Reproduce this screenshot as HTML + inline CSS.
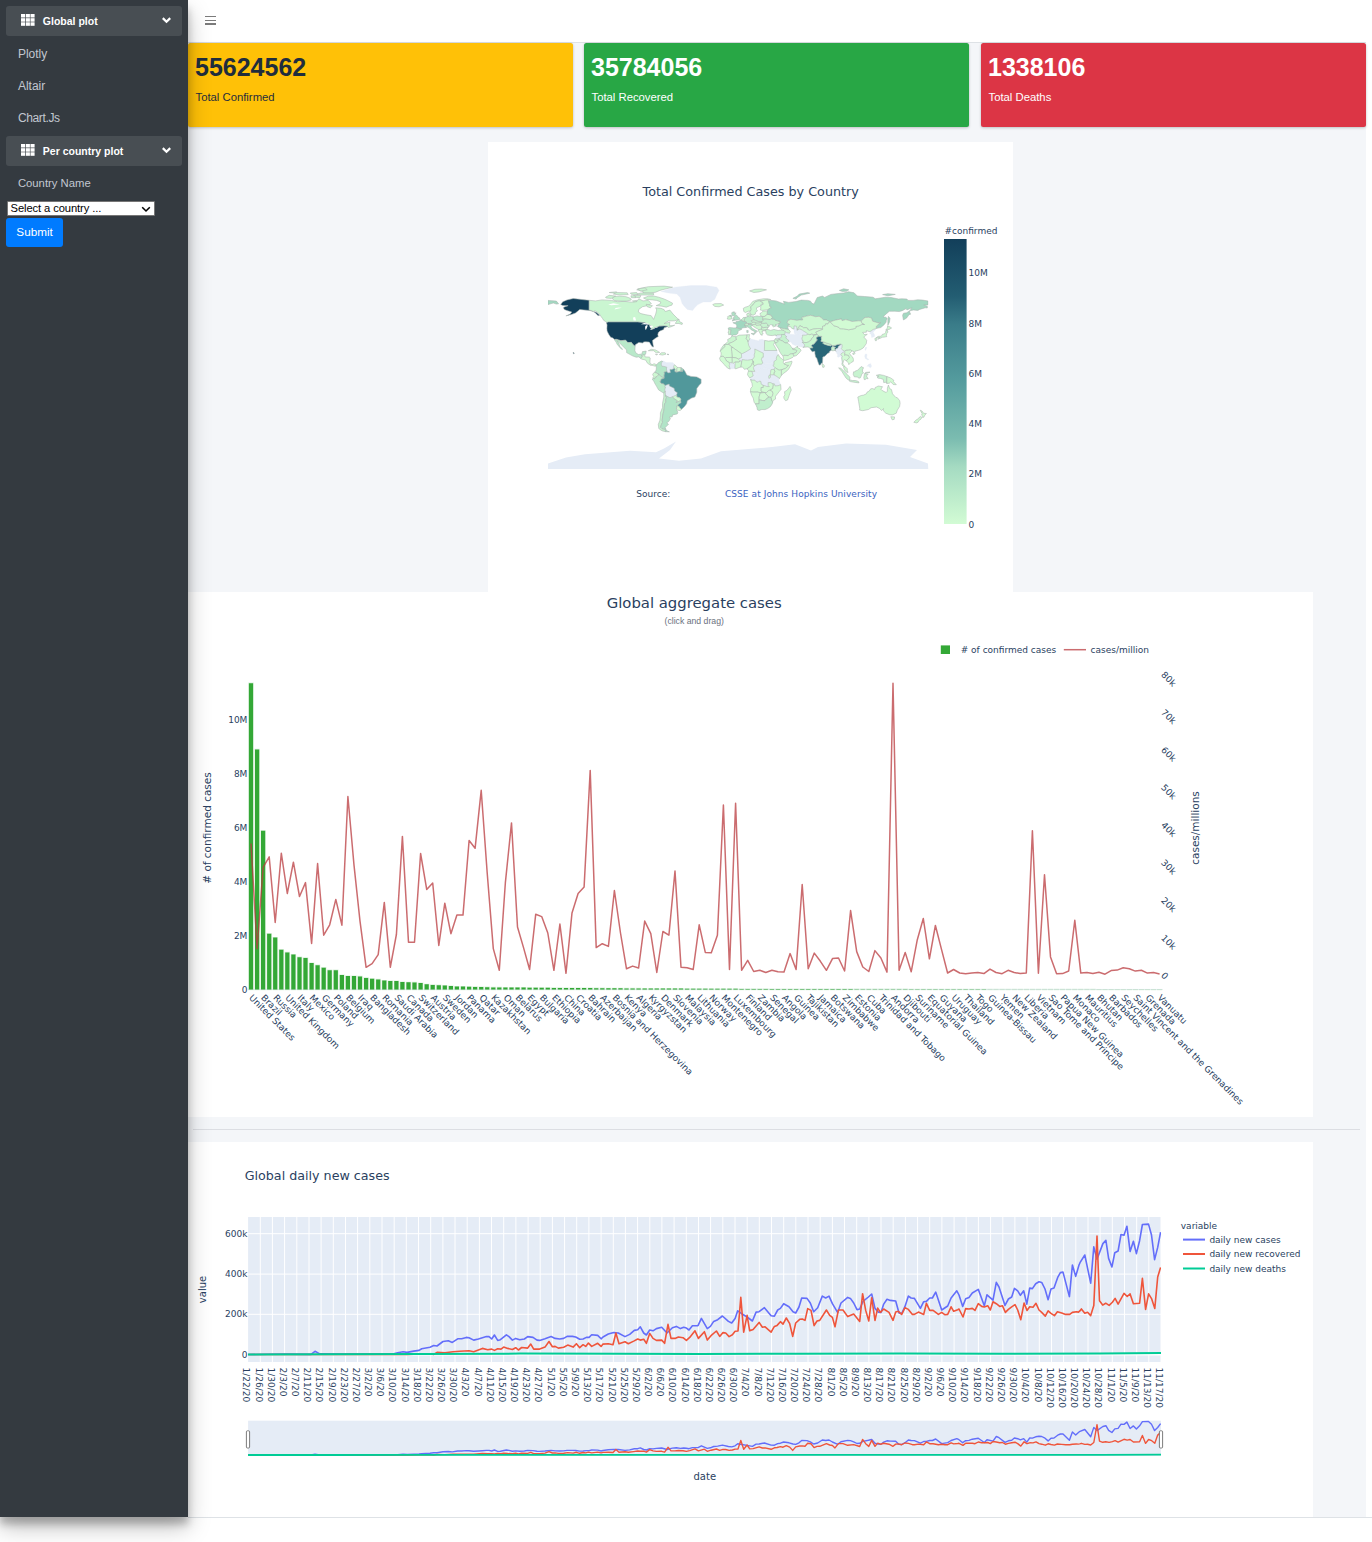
<!DOCTYPE html><html><head><meta charset="utf-8"><title>COVID-19 Dashboard</title><style>

*{box-sizing:border-box;margin:0;padding:0}
html,body{width:1372px;height:1542px;overflow:hidden;background:#fff}
body{position:relative;font-family:"Liberation Sans", Arial, sans-serif}
.abs{position:absolute}
#content{left:188px;top:0;width:1178px;height:1517px;background:#f4f6f9}
#nav{left:188px;top:0;width:1178px;height:43px;background:#fff;border-bottom:1px solid #dee2e6}
.hb{position:absolute;left:17.2px;width:10.7px;height:1.5px;background:#7b7b7b}
.ib{position:absolute;top:43px;height:84px;border-radius:2.5px;box-shadow:0 0 1px rgba(0,0,0,.125),0 1px 3px rgba(0,0,0,.2)}
.ib .n{position:absolute;left:7px;top:9.3px;font-weight:700;font-size:25px;line-height:30px}
.ib .l{position:absolute;left:7.5px;top:47px;font-size:11.3px;line-height:14px}
.card{position:absolute;background:#fff}
#sb{left:0;top:0;width:188px;height:1517px;background:#343a40;z-index:5;box-shadow:0 10.5px 21px rgba(0,0,0,.25),0 7.5px 7.5px rgba(0,0,0,.22)}
.nh{position:absolute;left:6px;width:176px;height:30px;background:rgba(255,255,255,.1);border-radius:3px}
.nh .t{position:absolute;left:36.8px;top:8.5px;font-size:10.5px;font-weight:700;color:#fff;line-height:12px}
.nh svg{position:absolute;left:0;top:0}
.si{position:absolute;left:17.9px;font-size:12px;color:#c2c7d0;line-height:14px}
#svg{position:absolute;left:0;top:0;z-index:2}

</style></head><body>
<div id="content" class="abs"></div>
<div id="nav" class="abs"><div class="hb" style="top:15.8px"></div><div class="hb" style="top:19.6px"></div><div class="hb" style="top:23.4px"></div></div>
<div class="ib" style="left:188px;width:385px;background:#ffc107;color:#1f2d3d"><div class="n">55624562</div><div class="l">Total Confirmed</div></div>
<div class="ib" style="left:584px;width:385px;background:#28a745;color:#fff"><div class="n">35784056</div><div class="l">Total Recovered</div></div>
<div class="ib" style="left:981px;width:385px;background:#dc3545;color:#fff"><div class="n">1338106</div><div class="l">Total Deaths</div></div>
<div class="card" style="left:488px;top:142px;width:525px;height:450px"></div>
<div class="card" style="left:188px;top:592px;width:1125px;height:525px"></div>
<div class="abs" style="left:193px;top:1129px;width:1167px;height:1px;background:#dcdee3"></div>
<div class="card" style="left:188px;top:1142px;width:1125px;height:375px"></div>
<div class="abs" style="left:188px;top:1517px;width:1184px;height:1px;background:#dee2e6"></div>
<svg id="svg" width="1372" height="1542" font-family='"DejaVu Sans", "Liberation Sans", sans-serif'>
<clipPath id="mclip"><rect x="548" y="284" width="380.5" height="185"/></clipPath>
<g clip-path="url(#mclip)" stroke="#aab4b0" stroke-width="0.55" stroke-linejoin="round">
<path d="M661.5,361.1 L663.1,360.8 L666.2,362.6 L670.4,362.5 L673.1,362.7 L674.5,364.7 L673.6,366.4 L673.9,368.3 L671.7,369.5 L669.9,369.4 L670.4,372.5 L668,372.9 L667,371.6 L666.4,369 L666.8,367.2 L664.1,366.4 L662,366.4 L661.2,364.1 L661.5,362.7 L662.7,361.6Z" fill="#e5ecf6" stroke="#e5ecf6" stroke-width="0.3"/>
<path d="M664.7,386.9 L665.2,385.4 L669.1,384.1 L669.4,385.9 L671.5,386.9 L674.1,388.3 L674.7,391 L677.3,392.7 L676.6,394.9 L672.2,396.9 L670,397.7 L668,396.8 L666.4,397.8 L665.5,395.3 L665.2,391.2 L664.7,389.9 L665.5,387Z" fill="#e5ecf6" stroke="#e5ecf6" stroke-width="0.3"/>
<path d="M660.9,291.4 L668.3,289.3 L674.7,287.2 L690.5,285.6 L706.3,285.6 L716.9,287.2 L719,290.4 L716.9,294.6 L714.8,299.3 L710.6,302 L703.2,302 L697.9,304.6 L694.7,307.8 L692.6,310.4 L687.3,309.4 L684.2,306.2 L682.1,303.6 L681,299.9 L680,297.2 L676.8,294.1 L668.3,293Z" fill="#e5ecf6" stroke="#e5ecf6" stroke-width="0.3"/>
<path d="M794,329.1 L794,332.1 L794.9,334.4 L796.1,333.8 L801.3,334.2 L802.4,335.2 L805.6,335.2 L808.2,334.3 L806.1,332.6 L803.5,331 L802.4,330.2 L799.8,328.9 L797.1,330.2 L796.6,326.2 L794,325.9Z" fill="#e5ecf6" stroke="#e5ecf6" stroke-width="0.3"/>
<path d="M785.3,331.8 L786.6,332.7 L789.6,333.2 L789.7,334.2 L794.9,334.4 L796.1,333.8 L801.3,334.2 L802.4,335.2 L802.6,336.5 L801.9,338.2 L802.3,340.5 L803.1,340.6 L803.2,341.2 L802.3,342.3 L804.8,345 L804,347.1 L802.9,347.3 L798.5,346.6 L797.5,345.1 L795.7,345.8 L792.4,344.3 L790.9,342 L789.3,342.2 L788.7,341.6 L788.7,341 L788.4,340 L786.7,338.9 L785.9,337.9 L786,336.8 L786.8,336.7 L785.5,335.7 L784.7,334.5 L784.7,333.6Z" fill="#e5ecf6" stroke="#e5ecf6" stroke-width="0.3"/>
<path d="M775.8,334.9 L776,336 L775.9,336.8 L776.6,337.6 L776,338.6 L775.8,339.2 L779,338.5 L781.3,337.4 L781.5,334.6 L782.7,334.5 L780.2,334.8 L776.9,334.9Z" fill="#e5ecf6" stroke="#e5ecf6" stroke-width="0.3"/>
<path d="M750,338.8 L754.1,339.7 L759.1,341.1 L759.1,339.8 L762.3,339.3 L764.6,340.4 L764.4,350.5 L764.4,352.6 L763.3,352.6 L763.3,353.2 L754.8,349 L752.9,350 L750.1,348 L748.6,345.2 L748,341.8 L748.9,340.2Z" fill="#e5ecf6" stroke="#e5ecf6" stroke-width="0.3"/>
<path d="M764.4,350.5 L777,350.5 L777.6,354.1 L778.5,354.7 L777.1,355.6 L776.3,358.1 L776.5,359.7 L773.9,361.6 L772.8,362.5 L772.5,360.9 L771,363.4 L766.5,363.6 L763.9,364.2 L762.8,363.1 L761.4,359.2 L762.3,357.2 L763.3,357.2 L763.3,353.2 L763.3,352.6 L764.4,352.6Z" fill="#e5ecf6" stroke="#e5ecf6" stroke-width="0.3"/>
<path d="M763.9,364.2 L766.5,363.6 L771,363.4 L772.5,360.9 L772.8,362.5 L773.9,361.6 L774,364.7 L772.8,365.5 L775.3,367.9 L773.9,369.2 L770.9,369.7 L768,369.2 L766.8,368.3 L763.9,365Z" fill="#e5ecf6" stroke="#e5ecf6" stroke-width="0.3"/>
<path d="M742.5,353.5 L745.9,351.8 L750.7,348.9 L752.9,350 L754.8,349 L754.9,352.2 L754.2,354.9 L754.4,356.9 L752.8,359 L752.3,359.5 L750.7,359.7 L747.5,360.2 L745.4,360 L742.2,359.5 L741.8,361.4 L740.1,360.9 L738.4,359 L741.7,357.5 L741.4,353.7Z" fill="#e5ecf6" stroke="#e5ecf6" stroke-width="0.3"/>
<path d="M729.2,365.6 L729.7,364.8 L729.2,362.6 L732.3,362.8 L733,363.5 L735.1,363.6 L734.9,368.5 L730.1,369.1Z" fill="#e5ecf6" stroke="#e5ecf6" stroke-width="0.3"/>
<path d="M754.4,365.9 L753.4,367.5 L753.8,369.5 L754.9,371.4 L757.5,370.1 L758.6,368.4 L761.7,369.5 L763.3,368.6 L766.8,368.3 L763.9,365 L763.9,364.2 L762.8,363.1 L761.2,364.2 L757.9,364.2Z" fill="#e5ecf6" stroke="#e5ecf6" stroke-width="0.3"/>
<path d="M752,371.4 L754.9,371.4 L757.5,370.1 L756.5,374.8 L755.3,375.6 L752.8,378.5 L750.7,379 L749.7,377.9 L753.2,375.9Z" fill="#e5ecf6" stroke="#e5ecf6" stroke-width="0.3"/>
<path d="M757.5,370.1 L758.6,368.4 L761.7,369.5 L763.3,368.6 L766.8,368.3 L768,369.2 L770.9,369.7 L770.5,372.7 L769.3,375.1 L768.6,376.7 L768.9,380.1 L770.4,382.5 L768.1,382.7 L768.2,385.4 L769.3,386.6 L766.9,386.5 L765.2,385.8 L763.3,385.4 L763.2,385.1 L761.2,384.2 L760.9,381.5 L759.2,381.1 L758.1,382.2 L756,381.7 L754.9,380.1 L751.2,380.1 L750.7,379 L752.8,378.5 L755.3,375.6 L756.5,374.8Z" fill="#e5ecf6" stroke="#e5ecf6" stroke-width="0.3"/>
<path d="M770.1,374.8 L773.9,374.8 L777.8,377 L779.4,378.7 L779,380.6 L779.7,382.2 L780.7,384.6 L778.1,385.7 L775,385.9 L774.4,383.8 L772.8,383.7 L770.4,382.5 L768.9,380.1 L768.9,378.5 L770.5,377.3 L770.2,374.9Z" fill="#e5ecf6" stroke="#e5ecf6" stroke-width="0.3"/>
<path d="M835.8,351.3 L835.2,350.5 L835.5,349 L836.5,348.6 L837.9,347.9 L838.3,346.3 L840.4,345.1 L840.7,344 L842.2,344.7 L842,347.4 L841.1,348.5 L843,350.4 L844.8,351.2 L843.6,352.2 L842,353 L840.8,354.3 L842.4,356.6 L841.7,357.8 L842.5,362.1 L842,363.2 L841.5,359.5 L840.6,355.9 L838.7,357.2 L837.4,356.9 L837.6,354.5 L836.7,353.3 L836.3,352.6Z" fill="#e5ecf6" stroke="#e5ecf6" stroke-width="0.3"/>
<path d="M869.2,331.6 L871,331.1 L873.1,329.4 L874.8,329 L875.9,329 L874.9,330.5 L873.1,332.1 L872.6,331.7 L873.5,333 L871.2,334 L870.2,334 L869.6,333.5 L870.3,332.1Z" fill="#e5ecf6" stroke="#e5ecf6" stroke-width="0.3"/>
<path d="M871.2,334 L873.5,333 L874.6,334.9 L874.6,336.4 L872.5,337.3 L871.4,337.4 L871.5,336.1 L871.1,335Z" fill="#e5ecf6" stroke="#e5ecf6" stroke-width="0.3"/>
<path d="M864.8,349.5 L865.7,347.1 L866.8,347.4 L865.6,350.5Z" fill="#e5ecf6" stroke="#e5ecf6" stroke-width="0.3"/>
<path d="M865.1,354.2 L867.1,354.2 L866.8,355.8 L866.6,358.1 L868.9,359.5 L868,360 L866.1,359.1 L865.3,358.4 L864.7,356.3Z" fill="#e5ecf6" stroke="#e5ecf6" stroke-width="0.3"/>
<path d="M866.8,366.4 L868.4,364.6 L870.5,363.4 L871.6,366 L870.7,367.8 L869.1,367.1 L868.3,365.9Z" fill="#e5ecf6" stroke="#e5ecf6" stroke-width="0.3"/>
<path d="M560.7,304.5 L562.8,301.7 L567,299.9 L573.3,298.5 L581.8,299.5 L589.2,300.3 L589.2,310.1 L591.3,310.6 L593.4,311.5 L595.5,313.1 L598.1,315.7 L599.7,315.2 L596.6,312.5 L590.2,310.6 L583.9,309.9 L579.7,309.4 L577.6,311.3 L575.4,313.1 L571.2,314.6 L565.9,315.9 L570.2,314.1 L571.8,312 L567,310.6 L564.4,309.6 L563.3,307.8 L564.9,306.7 L568.1,305.7 L562.8,305.6Z" fill="#123f5a"/>
<path d="M589.2,300.3 L595.5,300.9 L601.8,299.9 L611.3,300.4 L617.7,301.7 L624,301.4 L632.4,302.2 L636.7,301.4 L638.8,298.8 L643,300.9 L648.3,300.4 L651.4,303.6 L647.2,305.7 L642.5,306.7 L638.8,309.4 L638.3,312 L640.9,313.6 L645.1,314.6 L651.2,315.7 L653.6,319.4 L654.6,316.7 L655.7,314.1 L656.7,309.9 L655.7,307.8 L660.9,308.3 L664.1,309.6 L665.2,311.5 L669.9,310.1 L673.1,314.1 L677.3,318.3 L678.9,319.4 L674.7,320.8 L668.3,321 L664.1,323.6 L669.9,322.2 L669.6,324.1 L669.4,325.7 L672.6,325.6 L674.7,325.2 L671,326.8 L668.3,327.5 L667.3,326.2 L664.1,325.9 L659.2,326.2 L657.5,327.1 L654.4,327.8 L654.6,328.6 L650.9,329.4 L651,328.4 L651.3,326 L648.8,324.7 L644.8,322.8 L637.7,322 L608.2,322 L607.6,322.8 L605.5,321.5 L603.4,320.1 L602.9,318.9 L600.8,316.2 L600,314.6 L597.1,312 L595,310.8 L593.4,311.5 L591.3,310.6 L589.2,310.1Z" fill="#caf6d1"/>
<path d="M653.6,296 L658.8,297.2 L664.1,299 L667.3,300.4 L672.6,303.2 L672,305.1 L669.4,305.9 L666.2,307.2 L662,306.2 L656.2,305.6 L659.9,304.1 L660.9,302 L656.7,300.4 L652.5,299.9 L646.2,299.4 L643.5,298 L648.3,296.2Z" fill="#caf6d1"/>
<path d="M613.4,296.5 L619.8,296.2 L626.1,296.7 L630.3,298.3 L631.4,299.9 L626.6,301.1 L621.9,301.1 L614.5,300.6 L612.4,298.8Z" fill="#caf6d1"/>
<path d="M605.5,297.2 L609.2,295.3 L615.6,296.1 L611.3,298.4 L606.1,298Z" fill="#caf6d1"/>
<path d="M643,293 L650.4,293 L655.7,292.2 L659.9,290.4 L664.1,289.3 L672.6,287.2 L664.1,286.1 L648.3,286.7 L640.9,288.2 L636.7,289.8 L643,291.4Z" fill="#caf6d1"/>
<path d="M640.9,293 L653.6,293.3 L653.6,295 L640.9,295 L636.7,294.1Z" fill="#caf6d1"/>
<path d="M615.6,292.5 L627.2,292.8 L628.2,294.6 L619.8,295 L613.4,294.1Z" fill="#caf6d1"/>
<path d="M633.5,295.6 L640.9,295.6 L639.8,297.7 L634.6,297.2Z" fill="#caf6d1"/>
<path d="M646.2,304.2 L652.5,305.7 L650.4,307.8 L647.2,306.7Z" fill="#caf6d1"/>
<path d="M637.7,288.8 L645.1,287.9 L647.2,289.8 L640.9,291.1Z" fill="#caf6d1"/>
<path d="M609.2,292.5 L616.6,291.8 L615.6,293.2Z" fill="#caf6d1"/>
<path d="M630.3,293 L636.7,292.5 L637.7,294.6 L631.4,294.3Z" fill="#caf6d1"/>
<path d="M632.4,300.9 L636.7,300.4 L636.7,301.7 L633.5,301.7Z" fill="#caf6d1"/>
<path d="M630.9,295.8 L635.1,295.8 L635.6,297.7 L631.4,297.7Z" fill="#caf6d1"/>
<path d="M675.4,323.5 L678.9,323.5 L682.1,324.5 L682.5,323.1 L679.4,321.5 L679.1,319.3 L677.3,320.3 L675.7,322.6Z" fill="#caf6d1"/>
<path d="M606.4,322.7 L608.2,322 L637.7,322 L644.8,322.8 L648.8,324.7 L651.3,326 L651,328.4 L650.9,329.4 L654.6,328.6 L654.4,327.8 L657.5,327.1 L659.2,326.2 L664.1,325.9 L667.3,326.2 L667.3,326.8 L664.1,327.8 L663.6,329.6 L659.9,331 L658.3,332.6 L657.8,334.7 L658.3,336.5 L655.7,338.1 L652.5,340.5 L653,344.2 L653.6,347 L652,346.5 L650.6,344.2 L649.3,342.1 L645.6,341.8 L643.5,341.9 L643,343.1 L638.8,342.4 L635.3,344.7 L635.1,346.3 L633,344.7 L631.4,342.4 L627.7,342.6 L625.6,340.2 L620.8,340.7 L616.8,339.4 L614.4,339.4 L612.9,337.9 L610.7,337.2 L608.7,334.2 L607.1,331 L606.9,328.4 L607.1,324.9Z" fill="#123f5a"/>
<path d="M573.3,352.1 L574.4,353.4 L573.5,353.8 L573.2,353Z" fill="#123f5a"/>
<path d="M614.4,339.4 L616.8,339.4 L620.8,340.7 L625.6,340.2 L627.7,342.6 L631.4,342.4 L633,344.7 L635.1,346.3 L634.9,350.5 L635.6,352.6 L638.3,354.5 L641.9,354 L642.5,351.6 L646.2,351.1 L645.6,354.2 L644.6,354.7 L641.5,355.5 L642.5,356.9 L640.7,358.4 L638.8,356.9 L636.1,357.2 L632.4,355.8 L626.6,352.6 L626.6,350 L622.4,345.8 L619.3,342.6 L616.8,340.5 L618.7,343.1 L619.8,346.3 L621.9,348.4 L622.4,349.5 L621.6,349.2 L619.8,347.4 L617.1,344.2 L616.1,342.1 L614.7,340.2Z" fill="#b9e9ca"/>
<path d="M640.7,358.4 L642.5,356.9 L641.5,355.5 L644.6,354.7 L645.1,356.9 L649.3,357.1 L650.2,357.9 L649.9,362.1 L650.4,364 L652.5,364.5 L654.1,363.7 L656.4,364.7 L655.8,366.1 L653.6,366 L653,365.3 L650.5,365.3 L647.5,363.2 L645.6,360 L641.9,359.2Z" fill="#d0f9d3"/>
<path d="M648.3,350.7 L651.4,349.3 L655.7,350 L659.7,352.4 L656.2,352.8 L653.6,350.7 L649.3,350.7Z" fill="#d2fbd4"/>
<path d="M659.5,354.3 L661.5,352.7 L665.2,352.8 L665.9,354.2 L662.5,355.1 L659.4,354.5Z" fill="#d0f9d3"/>
<path d="M655.4,354.3 L657.6,354.4 L656.9,355Z" fill="#d2fbd4"/>
<path d="M667.1,354.2 L668.8,354.4 L668.3,354.7Z" fill="#123f5a"/>
<path d="M656.4,364.7 L657.8,363.6 L658.3,362.7 L661.5,361.1 L662.7,361.6 L661.5,362.7 L661.2,364.1 L662,366.4 L664.1,366.4 L666.8,367.2 L666.4,369 L667,371.6 L664.1,372.2 L664.6,374 L664.1,374.8 L664.2,378.2 L660.9,376.4 L658.3,374 L656.2,372.9 L654.6,372.4 L656.2,370.1 L656.4,366.8 L655.8,366.1Z" fill="#b4e6c8"/>
<path d="M674.5,364.7 L677.6,367.4 L676.9,368.7 L676.8,372.2 L675,371.8 L674.7,370.6 L675.2,369.5 L673.9,368.3 L673.6,366.4Z" fill="#d2fbd4"/>
<path d="M677.6,367.4 L681,367.6 L681,369.9 L680,371.3 L678.4,371.7 L676.8,372.2 L676.9,368.7Z" fill="#d2fbd4"/>
<path d="M681,367.6 L683.5,369.3 L682.6,371.4 L681,371.4 L681,369.9Z" fill="#a0d7c0"/>
<path d="M654.6,372.4 L656.2,372.9 L658.3,374 L658.6,374.8 L657.1,376.5 L655.2,377.4 L654.6,379 L653.2,378.4 L653,377.3 L653.8,376.4 L652.6,374.8 L653.6,372.9Z" fill="#cef8d2"/>
<path d="M658.3,374 L660.9,376.4 L664.2,378.2 L661.1,379.3 L660.6,381.6 L659.9,381.6 L661.1,383.2 L663.5,383.8 L665.2,385.4 L664.7,386.9 L665.5,387 L664.7,389.9 L665.2,391.2 L663.8,393.1 L662.6,392.5 L658.6,389.9 L656.7,386.6 L655.2,384.1 L653.8,381.3 L652.2,379 L653.2,378.4 L654.6,379 L655.2,377.4 L657.1,376.5 L658.6,374.8Z" fill="#bcebcb"/>
<path d="M674.7,368.3 L673.9,368.3 L675.2,369.5 L674.7,370.6 L675,371.8 L676.8,372.2 L678.4,371.7 L680,371.3 L681,371.4 L682.6,371.4 L683.5,369.3 L685.2,371.8 L686.8,375 L691,376.4 L696.8,376.9 L701.1,379.3 L701.1,383.2 L699,385.4 L696.8,388.5 L696.8,392.2 L694.9,397 L691.6,398 L687.3,400.7 L686.6,403.8 L684.5,406.5 L681.6,409.3 L680,408.1 L678.9,406.3 L677.2,405.6 L678.6,404.1 L681,402.6 L680.4,400.8 L680.8,399.1 L679.3,397.6 L676.8,397 L676.6,394.9 L677.3,392.7 L674.7,391 L674.1,388.3 L671.5,386.9 L669.4,385.9 L669.1,384.1 L665.2,385.4 L663.5,383.8 L661.1,383.2 L659.9,381.6 L660.6,381.6 L661.1,379.3 L664.2,378.2 L664.1,374.8 L664.6,374 L664.1,372.2 L667,371.6 L668,372.9 L670.4,372.5 L669.9,369.4 L671.7,369.5Z" fill="#51989b"/>
<path d="M676.6,394.9 L676.8,397 L679.3,397.6 L680.8,399.1 L680.4,400.8 L676.1,402.6 L677.2,400.7 L674.7,399.1 L672.2,396.9Z" fill="#d0fad3"/>
<path d="M663.8,393.1 L665.2,391.2 L665.5,395.3 L666.4,397.8 L665.7,399.6 L665.9,402.2 L664.5,403.8 L664.1,408.6 L663.6,411.7 L662.8,414.9 L662.2,420.2 L662.5,422.3 L661.5,424.4 L660.6,427.1 L662,428.6 L665.2,429.2 L665.6,431.7 L662,430.8 L658.8,428.6 L658.3,424.4 L659.9,420.2 L660.4,416 L660.4,412.8 L662.5,407.5 L662.5,403.3 L663.8,397Z" fill="#c5f2cf"/>
<path d="M665.5,395.3 L668,396.8 L670,397.7 L672.2,396.9 L674.7,399.1 L677.2,400.7 L676.1,402.6 L680.4,400.8 L681,402.6 L678.6,404.1 L677.2,405.6 L676.4,409.1 L677.8,412.3 L677.3,413.9 L672.6,414.9 L672.2,416.8 L669.4,417 L670.4,418.6 L668.9,421.3 L666.8,422.8 L668.5,424.2 L665.2,427.6 L665.8,429 L665.2,429.2 L662,428.6 L660.6,427.1 L661.5,424.4 L662.5,422.3 L662.2,420.2 L662.8,414.9 L663.6,411.7 L664.1,408.6 L664.5,403.8 L665.9,402.2 L665.7,399.6 L666.4,397.8Z" fill="#b1e4c7"/>
<path d="M665.6,429.3 L665.6,431.7 L669.4,431.8 L667.8,431.3Z" fill="#b1e4c7"/>
<path d="M677.2,405.6 L678.9,406.3 L680,408.1 L681.6,409.3 L680.1,410.6 L677.8,410.2 L676.4,409.1Z" fill="#d2fbd4"/>
<path d="M712.7,304.6 L714.8,303.7 L721.1,303.6 L723.7,305.1 L719,306.8 L714.8,306.4Z" fill="#d2fbd4"/>
<path d="M743.3,308.3 L743.8,311.5 L745.4,312.5 L749.1,310.9 L750.1,311.5 L751.2,309.4 L750.7,306.7 L752.8,305.1 L754.9,302 L758.1,300.9 L764.4,300.4 L768.6,299.9 L770.7,299.5 L767.6,298.8 L763.3,298.8 L757,299.9 L752.8,301.4 L750.7,304.1 L748.6,306.2 L745.4,307.2Z" fill="#d1fad4"/>
<path d="M750.1,311.5 L749.6,312 L751.2,314.6 L753,315.3 L755.4,314.1 L755.4,312.5 L757.5,310.9 L756.5,309.4 L756.5,307.8 L760.2,306.2 L761.2,304.3 L763.3,304.2 L762.8,302.5 L759.6,300.9 L758.1,300.9 L754.9,302 L752.8,305.1 L750.7,306.7 L751.2,309.4Z" fill="#cdf8d2"/>
<path d="M760.2,309.9 L762.3,310.4 L765.5,310 L767.6,309.8 L771.3,307.5 L769.7,306.2 L769.7,304.6 L769.1,303 L768.6,300.9 L768.1,299.9 L765.5,300.1 L764.4,300.4 L760.2,300.9 L762.8,302.5 L763.3,304.2 L761.2,305.1 L760.7,306.7 L760.7,308.8Z" fill="#d2fbd4"/>
<path d="M732,321 L734.8,320.2 L739.5,319.7 L739.8,318.1 L738,317.3 L737.7,316.2 L735.9,314.8 L734.8,314.6 L736.1,312.9 L733.8,312.9 L734.8,311.9 L732.7,311.9 L731.5,313.1 L732.1,314.3 L731.7,314.8 L732.9,315.9 L734.4,315.8 L734.8,317.2 L733.2,317.5 L733.8,318.3 L732.4,319.1 L734.8,319.5 L733.3,319.8Z" fill="#afe2c6"/>
<path d="M732.1,316.1 L731.4,315.5 L730.3,315.4 L729.6,316.2 L731.5,316.6Z" fill="#afe2c6"/>
<path d="M731.7,318.9 L731.5,317.3 L731.5,316.6 L729.6,316.2 L730.3,315.4 L729,315.9 L727.5,316.7 L727.9,317.8 L727.1,318.9 L729,319.3Z" fill="#d0fad3"/>
<path d="M736.1,327.9 L741.3,329 L742.8,327.8 L745.9,327.5 L745.4,325.7 L745.2,324.8 L744.3,324.9 L745.9,323.5 L746.7,322 L744.9,321.5 L743.1,321 L740.6,319.8 L739.7,320.8 L738.2,321.3 L736.7,321.6 L736.1,321.3 L736.4,322.4 L733,322.6 L733.6,323.3 L735.7,323.9 L736.7,325 L736.7,326.8Z" fill="#a0d7c0"/>
<path d="M728.2,328.1 L729.6,327.6 L733.8,327.9 L736.1,327.9 L741.3,329 L741.4,329.5 L738.9,330.5 L737.7,332.1 L738.2,332.8 L737.3,334.1 L735.8,335 L733.4,335 L732.1,335.7 L731.3,334.9 L730.2,334.5 L730.1,333.6 L730.6,332.7 L730.1,331.9 L730.7,331.3 L730.7,329.8 L729.5,329.6 L728.6,329.4Z" fill="#ace0c5"/>
<path d="M728.6,329.4 L729.5,329.6 L730.7,329.8 L730.7,331.3 L730.1,331.9 L730.6,332.7 L730.1,333.6 L730.2,334.5 L728.6,334.7 L728.7,332.9 L728,332.8 L728.7,330.7Z" fill="#ccf7d2"/>
<path d="M745.9,327.5 L747.3,326.9 L748.8,327.4 L751.1,329.7 L754.5,331.5 L754.9,333.6 L754.6,333.1 L756.2,332.6 L756,331.1 L757.5,331.4 L754.8,329.8 L752.8,328.7 L751,326.8 L751,325.9 L752.6,325.6 L752.4,324.7 L750.7,324.1 L749,324.2 L747.5,325.2 L745.4,325.3 L745.4,325.9Z" fill="#b2e4c7"/>
<path d="M751.1,333.5 L754.5,333.3 L753.9,335Z" fill="#b2e4c7"/>
<path d="M746.7,330.5 L748.2,330.6 L748.1,332.6 L746.9,332.6Z" fill="#b2e4c7"/>
<path d="M744.3,320.1 L744.4,319 L745.4,317.3 L747,317.2 L747.4,315.8 L749.5,316.7 L751.7,316.3 L753,316.9 L753.5,318.9 L753.8,319.8 L751.2,320.7 L752.6,322.3 L751.7,323.6 L748.6,323.8 L746,323.5 L746.7,322 L744.9,321.5Z" fill="#bceccb"/>
<path d="M753,316.9 L757,315.9 L758.7,316.3 L762.8,316.5 L762.8,318.2 L763.3,320.3 L761.9,321.9 L758.1,321.6 L757.9,321.5 L755.3,320.3 L753.8,319.8 L753.5,318.9Z" fill="#bdeccc"/>
<path d="M740.6,319.8 L741.6,319.5 L742.5,318.6 L743.2,317.6 L745.4,317.3 L744.4,319 L744.3,320.1 L744.9,321.5 L743.1,321Z" fill="#c5f2cf"/>
<path d="M744.3,324.9 L745.2,324.8 L745.4,325.3 L747.5,325.2 L749,324.2 L748,323.5 L746,323.5Z" fill="#cbf6d1"/>
<path d="M748,323.5 L749,324.2 L750.7,324.1 L752.4,324.7 L755.4,324.3 L756.1,323.1 L755.8,322.4 L753.8,322 L752.6,322.3 L751.7,323.6 L748.6,323.8Z" fill="#ccf7d2"/>
<path d="M751.2,320.7 L753.8,319.8 L755.3,320.3 L757.9,321.5 L758.1,321.6 L761.9,321.9 L761.3,322.7 L757.9,323.3 L756.1,323.1 L755.8,322.4 L753.8,322 L752.6,322.3Z" fill="#c6f3cf"/>
<path d="M755.4,324.3 L756.1,323.1 L757.9,323.3 L761.3,322.7 L762.2,323.2 L760.2,325 L757.9,325.3 L756,325.3Z" fill="#cef8d2"/>
<path d="M752.4,325.6 L752.4,324.7 L755.4,324.3 L756,325.3 L757.9,325.3 L760.2,325 L762,326.7 L761.7,329.1 L759.8,329.5 L758.5,329.6 L757.5,328.9 L756,328.1 L754.1,327 L753.3,325.9Z" fill="#d0f9d3"/>
<path d="M758.5,329.6 L759.8,329.5 L761.7,329.1 L762.3,330 L765.8,329.7 L765.6,330.9 L763.3,330.7 L762.8,331.5 L761.9,331.2 L762.3,332.6 L763.3,333.4 L762,334.1 L762.3,335.2 L760.9,334.9 L760.3,333.8 L759.3,331.9 L758.4,330.8Z" fill="#d0fad3"/>
<path d="M762,326.7 L761.7,329.1 L762.3,330 L765.8,329.7 L767.6,329.4 L767.2,328.4 L768.2,327.6 L766.5,327.2 L763.3,327.6Z" fill="#d0f9d3"/>
<path d="M760.2,325 L762.2,323.2 L764.3,323.4 L766.1,322.9 L767.8,324.5 L767.8,325.8 L769.3,326 L768.2,327.6 L766.5,327.2 L763.3,327.6 L762,326.7Z" fill="#c8f4d0"/>
<path d="M760.2,314.6 L760.2,313.1 L761,313.2 L762.8,311.2 L767.6,311 L767.2,313.1 L767.8,314.4 L766.1,315 L765.2,316.4 L762.8,316.5 L760.5,315.5Z" fill="#d1fad4"/>
<path d="M762.8,316.5 L765.2,316.4 L766.1,315 L767.8,314.4 L770.7,314.8 L772.5,317.4 L771.3,318.8 L770.3,319.6 L764.9,319 L762.8,319.3 L762.8,318.2Z" fill="#cff9d3"/>
<path d="M763.3,320.3 L762.8,319.3 L764.9,319 L770.3,319.6 L771.3,318.8 L774.3,319.1 L775.4,320.3 L778.3,321 L780.2,321.4 L780.3,322.8 L778.4,323.9 L775,324.9 L776.6,325.8 L773.4,326.8 L772.3,325.8 L773.4,325.2 L770.7,324.6 L769.7,325.4 L767.8,325.8 L767.8,324.5 L766.1,322.9 L764.3,323.4 L762.2,323.2 L761.3,322.7 L761.9,321.9Z" fill="#c4f1ce"/>
<path d="M746.6,315.2 L747.1,313.5 L749.2,312.8 L749.1,314.1 L751.3,314.6 L751,315.7 L748.6,315.8 L747.4,315.8Z" fill="#d0fad3"/>
<path d="M765.6,330.9 L765.8,329.7 L767.6,329.4 L770.7,330.4 L773.9,329.4 L778.1,330.5 L781.8,329.9 L783.9,330.4 L785.3,331.8 L784.7,334.5 L782.7,334.5 L780.2,334.8 L776.9,334.9 L776,336 L775.8,334.9 L772.3,335.6 L770.2,335.4 L767.6,335 L765.8,333.3 L766,332.1Z" fill="#c7f4d0"/>
<path d="M767.6,311 L767.2,313.1 L767.8,314.4 L770.7,314.8 L772.5,317.4 L771.3,318.8 L774.3,319.1 L775.4,320.3 L778.3,321 L780.2,321.4 L780.3,322.8 L778.4,323.9 L779.7,324.1 L778.1,325 L777.6,326.6 L780.2,327.9 L784.5,328.8 L788.7,329.6 L788.1,328.4 L787.6,326.2 L789.2,324.7 L789.8,324.8 L787.1,322.7 L787.9,320.5 L790.8,319.3 L794,319.7 L796.8,320.4 L799.8,319.9 L802.4,320.1 L802.9,318.9 L801.3,318.3 L802.4,317.3 L806.6,316.1 L810.8,315.3 L815.5,316.7 L819.2,316.3 L821.4,317.8 L823.5,319.9 L826.2,319.9 L830.2,321.8 L835.1,320.2 L841.5,318.9 L842,320.7 L845.7,319.6 L849.9,320.7 L852,321.5 L858.8,320.8 L861.2,321.1 L864.2,318.2 L865.4,317.5 L868.5,317.3 L871.5,318 L872.6,321.2 L875.8,322.2 L878.4,322.9 L880.5,322.6 L876.3,326.2 L876.3,328.5 L878,328.1 L880.8,327.5 L883.9,324.9 L886.1,322.2 L886.3,320.2 L887.3,318.6 L885.8,317.3 L883.2,316.9 L884.2,315.7 L886.8,313.4 L889.3,311.3 L894.8,311.2 L899.3,311.6 L902.2,310.7 L906.2,308.6 L906.9,309.9 L910.8,308.3 L911.9,307.8 L910.1,310.4 L906.7,312.8 L903.5,313.2 L902.6,315.2 L903.4,319.9 L905.1,319 L906.9,317.7 L909.1,314.5 L910.4,314.4 L910.2,312.8 L909,312.3 L910.7,310.5 L913.6,310 L917.8,310.4 L919.7,309.4 L925.3,307.8 L927.3,308 L927.3,306.2 L923.8,305.1 L928,304.9 L928,301 L922.7,300.1 L917.5,299.8 L913.2,300.4 L908,300.4 L906.9,299 L901.6,298.8 L898.5,299 L891.1,297.5 L885.8,297.2 L875.2,298.8 L873.1,297.2 L864.7,296.5 L857.3,296 L854.1,292.8 L848.8,291.8 L843.6,293 L838.3,293.5 L830.9,294.4 L824.6,297.4 L822.5,296.1 L817.2,297.5 L814,304.1 L811.9,303.3 L810.8,301.4 L809.8,300.9 L807.7,300.4 L801.3,300.1 L796.1,301.5 L788.7,302.4 L783.4,301.3 L784.5,304.1 L780.2,302.5 L776,300.9 L772.8,300.6 L770.6,300.3 L768.6,300.9 L769.1,303 L769.7,304.6 L769.7,306.2 L771.3,307.5 L767.6,309.8Z" fill="#a2d9c1"/>
<path d="M548,304.6 L553.3,303 L556.4,304.1 L558.6,303.8 L556.4,301.1 L548,300.4Z" fill="#a2d9c1"/>
<path d="M792.9,298.3 L797.1,296.2 L799.2,294.1 L807.7,292.5 L809.8,293.2 L801.3,295.1 L797.1,297.7 L796.1,299.1Z" fill="#a2d9c1"/>
<path d="M839.3,290.4 L843.6,288.8 L848.8,289.8 L846.7,291.2 L842.5,291.4Z" fill="#a2d9c1"/>
<path d="M882.6,294.6 L887.9,293.7 L895.3,294.4 L887.9,295.8Z" fill="#a2d9c1"/>
<path d="M887.9,325.2 L889.5,322 L890,318.3 L888.4,316.4 L887.9,319.9Z" fill="#a2d9c1"/>
<path d="M787.1,322.7 L789.8,324.8 L789.2,324.7 L787.6,326.2 L790.8,326.8 L791.8,328.4 L794,329.1 L794,325.9 L796.6,326.2 L797.1,330.2 L799.8,325.7 L802.4,326.9 L803.5,327.8 L806.1,327.7 L807.7,328.4 L807.7,329.5 L809.8,330.5 L810.8,329.9 L813,329.1 L815.6,328.9 L817.2,328.6 L821.4,328.6 L822.7,329.4 L822.5,326.4 L825.1,325.7 L825.6,323.9 L827.9,324.1 L828.5,322.6 L830.2,321.8 L826.2,319.9 L823.5,319.9 L821.4,317.8 L819.2,316.3 L815.5,316.7 L810.8,315.3 L806.6,316.1 L802.4,317.3 L801.3,318.3 L802.9,318.9 L802.4,320.1 L799.8,319.9 L796.8,320.4 L794,319.7 L790.8,319.3 L787.9,320.5Z" fill="#cdf8d2"/>
<path d="M797.1,330.2 L799.8,325.7 L802.4,326.9 L803.5,327.8 L806.1,327.7 L807.7,328.4 L807.7,329.5 L809.8,330.5 L810.8,329.9 L813,329.1 L815.6,328.9 L817.2,328.6 L821.4,328.6 L822.7,329.4 L818.2,331.1 L815.8,332.2 L817.2,334.3 L813.5,334.7 L811.9,334.1 L809.8,334.7 L808.2,334.3 L806.1,332.6 L803.5,331 L802.4,330.2 L799.8,328.9Z" fill="#d0fad3"/>
<path d="M780.2,327.9 L784.5,328.8 L788.7,329.6 L790.3,331.3 L789.6,333.2 L786.6,332.7 L785.3,331.8 L783.9,330.4 L781.8,329.9Z" fill="#cdf8d2"/>
<path d="M802.6,336.5 L802.4,335.2 L805.6,335.2 L808.2,334.3 L809.8,334.7 L811.9,334.1 L813.5,334.7 L817.1,334.3 L813.2,335.7 L813.6,336.8 L811.9,338.1 L811.4,338.9 L811.2,340.1 L808.2,342.1 L806.1,342.6 L802.3,342.3 L803.2,341.2 L803.1,340.6 L802.3,340.5 L801.9,338.2Z" fill="#d1fad4"/>
<path d="M802.3,342.3 L806.1,342.6 L808.2,342.1 L811.2,340.1 L811.4,338.9 L811.9,338.1 L813.6,336.8 L813.2,335.7 L817.1,334.3 L819.3,336.3 L816.7,337.3 L816.5,339.1 L817.5,339.7 L816.5,341 L814,344.2 L812.7,344.5 L811.4,345.8 L812.2,346.6 L813,348 L810.6,348.1 L809,347.6 L808.1,346.9 L806.1,347.1 L802.9,347.3 L804,347.1 L804.8,345Z" fill="#c9f5d0"/>
<path d="M779,338.5 L779.4,339.8 L782.3,340.9 L785.2,342.9 L787.1,343 L788.7,341.6 L788.7,341 L788.4,340 L786.7,338.9 L785.9,337.9 L786,336.8 L786.8,336.7 L785.5,335.7 L784.7,334.5 L782.7,334.5 L781.5,334.6 L781.3,337.4Z" fill="#c5f2cf"/>
<path d="M775.8,339.2 L776,338.6 L775.1,338.8 L774.2,340.7 L774.8,342.6 L776.1,342.9 L777.6,342.1 L778.1,341.6 L777.1,340.5 L779.4,339.8 L779,338.5Z" fill="#cbf6d1"/>
<path d="M776.1,342.9 L774.8,342.6 L775.5,344.2 L777.1,346.8 L778.6,348.9 L779.4,351.1 L780.8,353.5 L783.2,356.4 L783.9,355.3 L787.1,355.5 L788.1,355.8 L789.8,354.1 L792.9,353.7 L796.1,352.6 L796.8,350.5 L796.3,349.8 L792.9,349.5 L792.4,348.2 L791.6,347.6 L790.9,346.4 L790.3,345.4 L789.2,344.2 L788.4,343.7 L787.1,343 L785.2,342.9 L782.3,340.9 L779.4,339.8 L777.1,340.5 L778.1,341.6 L777.6,342.1Z" fill="#caf5d1"/>
<path d="M783.2,356.4 L783.5,360.3 L785.5,360.3 L789.4,359 L792.9,357.3 L794.1,356.1 L792.9,353.7 L789.8,354.1 L788.1,355.8 L787.1,355.5 L783.9,355.3Z" fill="#d2fbd4"/>
<path d="M796.3,349.8 L796.8,350.5 L796.1,352.6 L792.9,353.7 L794.1,356.1 L796.1,355.8 L798.2,353.9 L799.8,352.2 L801.1,350.2 L800,348.8 L797.5,347.5 L797.5,345.9 L797.1,346.8 L796.3,346.9 L795,348.3 L792.9,348.4 L792.4,348.2 L792.9,349.5Z" fill="#cff9d3"/>
<path d="M731.8,336 L735.7,336.7 L736.1,337.3 L736.2,338.9 L736.8,339.3 L734.1,341.1 L732.5,342.1 L728.8,343.5 L728.8,344.5 L724.1,344.5 L725.3,346.3 L720.1,351.2 L721.1,348.7 L722.8,346.1 L724.3,344.6 L727.2,342.4 L727.9,341.6 L727.7,339.4 L730.8,337.8Z" fill="#cbf6d1"/>
<path d="M735.7,336.7 L739.1,335.2 L747.1,334.8 L746.9,336.6 L746,338.6 L747.6,339.9 L748,341.8 L748.6,345.2 L750.1,348 L750.7,348.9 L745.9,351.8 L742.5,353.5 L741.4,353.7 L732.8,347.6 L728.8,344.5 L728.8,343.5 L732.5,342.1 L734.1,341.1 L736.8,339.3 L736.2,338.9 L736.1,337.3Z" fill="#d0fad3"/>
<path d="M747.1,334.8 L749.6,334.6 L749.1,337.3 L750,338.8 L748.9,340.2 L748,341.8 L747.6,339.9 L746,338.6 L746.9,336.6Z" fill="#d0f9d3"/>
<path d="M764.6,340.4 L768.6,341.1 L772,340.7 L774.2,340.7 L774.8,342.6 L773.5,344.4 L775.8,348.5 L777,350.5 L764.4,350.5Z" fill="#cff9d3"/>
<path d="M754.8,349 L763.3,353.2 L763.3,357.2 L762.3,357.2 L761.4,359.2 L762.8,363.1 L761.2,364.2 L757.9,364.2 L754.4,365.9 L752.8,363.7 L752.3,359.5 L752.8,359 L754.4,356.9 L754.2,354.9 L754.9,352.2Z" fill="#d2fbd4"/>
<path d="M732.8,347.6 L741.4,353.7 L741.7,357.5 L738.4,359 L735.9,357.9 L732.2,357.4 L732.3,362.8 L729.2,362.6 L726.4,360.9 L725.1,358.3 L725.7,357.5 L728,357.5 L732.2,357.4 L731.7,351.6 L731.3,347.5Z" fill="#d2fbd4"/>
<path d="M728.8,344.5 L732.8,347.6 L731.3,347.5 L731.7,351.6 L732.2,357.4 L728,357.5 L725.7,357.5 L725.1,358.3 L723.2,356.2 L720.6,356.6 L721.1,354.7 L721.1,352.7 L720.1,351.2 L725.3,346.3 L724.1,344.5Z" fill="#d2fbd4"/>
<path d="M720.6,356.6 L723.2,356.2 L725.1,358.3 L726.4,360.9 L729.2,362.6 L729.7,364.8 L729.2,365.6 L730.1,369.1 L728,368.3 L725.9,366.5 L724.1,364.4 L722.2,362.2 L720.4,360.7 L719.5,358.2Z" fill="#d2fbd4"/>
<path d="M732.2,357.4 L735.9,357.9 L738.4,359 L740.1,360.9 L739,362.1 L734.9,362.1 L733,363.5 L732.3,362.8Z" fill="#d2fbd4"/>
<path d="M734.9,362.1 L739,362.1 L740.1,360.9 L741.8,361.4 L740.9,367.1 L739.1,367.5 L735.9,368.8 L734.9,368.5 L735.1,363.6Z" fill="#d1fad4"/>
<path d="M740.9,367.1 L741.8,361.4 L742.2,359.5 L745.4,360 L747.5,360.2 L750.7,359.7 L752.3,359.5 L752.8,361.1 L753.3,362.1 L752.3,363.2 L751.7,364.8 L750.7,366.4 L750.4,366.6 L747,368.8 L744.3,369.3 L743.3,367.9 L742.5,367.1Z" fill="#d0fad3"/>
<path d="M752.8,361.1 L753.3,362.1 L752.3,363.2 L751.7,364.8 L750.7,366.4 L750.4,366.6 L747,368.8 L748.4,370.5 L748.4,371.3 L749.9,371.3 L754.9,371.4 L753.8,369.5 L753.4,367.5 L754.4,365.9 L752.8,363.7 L753.8,363.2 L753.3,361Z" fill="#d2fbd4"/>
<path d="M748.4,371.3 L749.9,371.3 L752,371.4 L753.2,375.9 L749.7,377.9 L747.5,374.8 L747.9,372.7Z" fill="#d2fbd4"/>
<path d="M777.1,355.6 L778.5,354.7 L779.5,357 L781.5,358.4 L783.7,360.7 L783.2,362.2 L784,363.9 L787.5,365.3 L788.7,365.3 L785.4,368.5 L782.3,369.5 L779.8,370.2 L778.5,369.9 L775.3,367.9 L772.8,365.5 L774,364.7 L773.9,361.6 L776.5,359.7 L776.3,358.1Z" fill="#d0f9d3"/>
<path d="M784,363.9 L785,362.8 L791.9,361.2 L791.9,362.6 L790.8,365.3 L788.7,369 L787.2,370.7 L783.5,373.4 L781.3,375.5 L781.3,370.8 L782.3,369.5 L785.4,368.5 L788.7,365.3 L787.5,365.3Z" fill="#d2fbd4"/>
<path d="M775.3,367.9 L778.5,369.9 L779.8,370.2 L782.3,369.5 L781.3,370.8 L781.3,375.5 L779.4,378.7 L777.8,377 L773.9,374.8 L773.9,372.5 L775,371.7 L773.9,369.2Z" fill="#d0fad3"/>
<path d="M770.9,369.7 L773.9,369.2 L775,371.7 L773.9,372.5 L773.9,374.8 L770.1,374.8 L769.3,375.1 L768.6,376.7 L768.9,378.5 L770.5,377.3 L770.2,374.9 L770.5,372.7Z" fill="#d2fbd4"/>
<path d="M750.7,379 L751.2,380.1 L754.9,380.1 L756,381.7 L758.1,382.2 L759.2,381.1 L760.9,381.5 L761.2,384.2 L763.2,385.1 L763.3,387.5 L761.2,387.5 L761.2,390.8 L762.5,392.2 L760.2,392.7 L757.4,392.1 L752.8,392.1 L750.4,391.7 L750.7,388.5 L752.4,386.4 L752,383.2 L750.7,380.3Z" fill="#d2fbd4"/>
<path d="M761.2,387.5 L763.3,387.5 L763.3,385.4 L765.2,385.8 L766.9,386.5 L769.3,386.6 L768.2,385.4 L768.1,382.7 L770.4,382.5 L772.8,383.7 L773.4,384.9 L772.8,388.5 L769.9,390.2 L768.5,390.6 L766.5,392.6 L764.7,392.5 L762.5,392.2 L761.2,390.8Z" fill="#d2fbd4"/>
<path d="M772.8,383.7 L774.4,383.8 L775,385.9 L778.1,385.7 L780.7,384.6 L781,389.4 L779.2,391.6 L775.5,396.3 L775.5,399.1 L772.8,400.7 L772.7,402 L771.8,401.2 L771,397.4 L772.3,395.9 L772.8,393.8 L772.5,391.7 L769.9,390.2 L772.8,388.5 L773.4,384.9Z" fill="#d2fbd4"/>
<path d="M766.5,392.6 L768.5,390.6 L769.9,390.2 L772.5,391.7 L772.8,393.8 L772.3,395.9 L771,397.4 L769,397.1 L767.1,395.4 L764.7,392.5Z" fill="#d2fbd4"/>
<path d="M750.4,391.7 L752.8,392.1 L757.4,392.1 L760.2,392.7 L762.5,392.2 L764.7,392.5 L760.2,393.1 L759.1,397 L759.1,399.9 L759.1,403.7 L755.4,403.9 L754.1,402.2 L753.2,398 L751.7,395.4Z" fill="#d2fbd4"/>
<path d="M759.1,397 L760.2,393.1 L764.7,392.5 L767.1,395.4 L769,397.1 L766.5,398.7 L765,400.7 L762.3,400.5 L759.1,399.9Z" fill="#d2fbd4"/>
<path d="M755.4,403.9 L759.1,403.7 L759.1,399.9 L762.3,400.5 L765,400.7 L766.5,398.7 L769,397.1 L771,397.4 L771.8,401.2 L772.7,402 L772.2,403.9 L770.3,406.7 L767.6,408.6 L765,409.6 L761.9,409.5 L759.1,410.5 L757.4,409.8 L757,407.5 L756,405Z" fill="#c0eecd"/>
<path d="M790,386.4 L791.3,390.1 L790.3,392.2 L789.2,395.4 L787.6,400 L785.5,400.7 L784.1,398.6 L783.7,396.8 L784.9,394.9 L784.5,391.7 L786.9,390.4 L788.7,388.2Z" fill="#d2fbd4"/>
<path d="M810,348.7 L810.6,348.1 L813,348 L812.2,346.6 L811.4,345.8 L812.7,344.5 L814,344.2 L816.5,341 L817.5,339.7 L816.5,339.1 L816.7,337.3 L819.3,336.3 L821.9,336.3 L821.2,337.9 L821.6,339.4 L820.9,341.3 L823.6,341.9 L824.6,344.3 L827.7,345.2 L831,345.9 L831.1,344.4 L832,345.5 L835.1,345.4 L837.2,344.6 L840.7,344 L840.4,345.1 L838.3,346.3 L837.9,347.9 L836.5,348.6 L835.5,349 L835.2,350.5 L834.8,349.6 L834.5,348.3 L835.5,347.4 L832.8,346.4 L832,346.8 L831.4,348.4 L831.6,350.2 L829.8,351.1 L829.3,352.6 L827.5,353.5 L824.9,356.2 L822.8,357 L822.5,362.8 L821.6,362.9 L820.7,364.4 L819.8,365.3 L818.9,364.4 L817.9,361.8 L816.8,358.3 L815.6,356.9 L814.9,353.5 L814.9,351.6 L814.6,351.2 L812.4,351.7 L811.1,350.5 L810.7,349.7Z" fill="#296678"/>
<path d="M831.4,348.4 L832,346.8 L832.8,346.4 L835.5,347.4 L834.5,348.3 L834.8,349.6 L835.2,350.5 L835.8,351.3 L834.9,350.3 L833.3,350.7 L832,350.7 L831.6,350.2Z" fill="#c7f4d0"/>
<path d="M822.6,343.3 L823.6,341.9 L826.7,343.1 L831.1,344.4 L831,345.9 L827.7,345.2 L824.6,344.3Z" fill="#cdf8d2"/>
<path d="M822.4,363.4 L824.4,365.8 L824.1,367.2 L822.8,367.4 L822.1,365.1Z" fill="#d2fbd4"/>
<path d="M842,363.2 L842.5,362.1 L841.7,357.8 L842.4,356.6 L840.8,354.3 L842,353 L843.6,352.2 L844.8,353.2 L844.7,355.3 L845.8,354.6 L848.5,355.4 L849.5,357.3 L848.6,358.5 L846.3,360.9 L844.5,359.6 L843.6,360.8 L842.7,364 L843.9,365 L844.6,366.5 L843.9,366.9 L842,364.9Z" fill="#d2fbd4"/>
<path d="M844.8,353.2 L844.8,351.2 L845.9,350.1 L848.7,349.9 L850.6,349.7 L852,351.1 L850.4,352.6 L849.6,353.7 L851.4,356.1 L853,357.6 L853.4,359.6 L853.3,361.4 L850.7,362.8 L848.8,364.7 L848.6,363 L846.3,360.9 L848.6,358.5 L849.5,357.3 L848.5,355.4 L845.8,354.6 L844.7,355.3Z" fill="#d2fbd4"/>
<path d="M843.9,366.9 L844.6,366.5 L845.8,367.2 L847.2,368.6 L847.3,370.9 L848.1,372.3 L847.3,372.5 L844.9,370.7 L843.7,367.9Z" fill="#d1fad4"/>
<path d="M815.8,332.2 L818.2,331.1 L822.7,329.4 L822.5,326.4 L825.1,325.7 L825.6,323.9 L827.9,324.1 L828.5,322.6 L830.2,321.8 L833.8,325.7 L838.6,327.1 L839.8,328.7 L843.6,328.8 L848.8,329.8 L854.5,328.6 L856.1,327.6 L855.9,326.4 L858.9,325.9 L861.9,324.5 L864.4,324.5 L861.9,323.4 L861.2,321.1 L864.2,318.2 L865.4,317.5 L868.5,317.3 L871.5,318 L872.6,321.2 L875.8,322.2 L878.4,322.9 L880.5,322.6 L876.3,326.2 L876.3,328.5 L874.8,329 L873.1,329.4 L871,331.1 L869.2,331.6 L866.4,330.6 L866.4,332.2 L862.6,332.4 L864.3,334.5 L867.3,334.3 L865.5,335.6 L863.8,336.9 L866.7,340.3 L866.3,343.6 L863.3,347.9 L860.4,349.7 L858.6,350.3 L855,351.2 L854.3,352.5 L853.1,350.9 L852,351.1 L850.6,349.7 L848.7,349.9 L845.9,350.1 L844.8,351.2 L843,350.4 L841.1,348.5 L842,347.4 L842.2,344.7 L840.7,344 L837.2,344.6 L835.1,345.4 L832,345.5 L831.1,344.4 L826.7,343.1 L823.6,341.9 L820.9,341.3 L821.6,339.4 L821.2,337.9 L821.9,336.3 L819.3,336.3 L817.1,334.3Z" fill="#d0f9d3"/>
<path d="M852.6,353.5 L854.7,352.5 L855.2,353.1 L854.1,354.5 L852.8,354.2Z" fill="#d0f9d3"/>
<path d="M830.2,321.8 L833.8,325.7 L838.6,327.1 L839.8,328.7 L843.6,328.8 L848.8,329.8 L854.5,328.6 L856.1,327.6 L855.9,326.4 L858.9,325.9 L861.9,324.5 L864.4,324.5 L861.9,323.4 L861.2,321.1 L858.8,320.8 L852,321.5 L849.9,320.7 L845.7,319.6 L842,320.7 L841.5,318.9 L835.1,320.2Z" fill="#d2fbd4"/>
<path d="M876.2,337.9 L877.9,336.4 L881.4,336.2 L882.3,334.4 L884.6,333.8 L885.8,332.2 L885.8,330.7 L887.3,330 L887.9,332.1 L886.8,333.6 L886.4,335.4 L886.7,336.7 L885.6,336.8 L884.4,337.1 L882.6,337.2 L880.5,338.1 L877.9,337.6Z" fill="#cff9d3"/>
<path d="M885.8,329.9 L887.3,328.1 L887.6,325.8 L890.6,327.3 L891.6,328 L889.2,329.4 L886.8,329.6Z" fill="#cff9d3"/>
<path d="M874.8,338.6 L876.2,337.9 L877.2,338.8 L876.3,340.7 L875.4,340.7Z" fill="#cff9d3"/>
<path d="M877.8,338.6 L879.5,337.5 L880.2,338.1 L878.4,339.1Z" fill="#cff9d3"/>
<path d="M838.6,367.8 L840.9,368.3 L844,371.3 L847.6,374.8 L849.9,377.2 L849.7,380 L848.3,380 L846,378 L843.7,374.5 L842.1,371.8Z" fill="#c7f3d0"/>
<path d="M849.1,380.9 L850,380 L852.5,380.5 L855.2,380.5 L857.2,381 L859,382 L858.8,382.9 L855.2,382.4 L850.4,381.6Z" fill="#c7f3d0"/>
<path d="M853.6,371.8 L854.7,372 L855.4,370.9 L857.3,370.4 L859.9,368 L861.2,366.5 L863.8,368 L862.7,368.6 L862.5,371.8 L863.6,372.8 L862,373.6 L861,376.4 L860.5,377.7 L859,378.2 L857.3,377 L854.3,376.8 L853.2,374.3Z" fill="#c7f3d0"/>
<path d="M864.2,379.6 L863.8,377.4 L864.5,373.7 L865.6,372.4 L869.5,372.1 L870,372.3 L865.8,373.3 L864.9,373.5 L868.2,374.4 L866.3,375.8 L868.1,378.7 L866.3,378.6 L865.2,379.6Z" fill="#c7f3d0"/>
<path d="M876.3,375.3 L879.5,374.6 L883.7,375.4 L886.8,376.5 L886.8,383.4 L885.8,382.2 L883.7,382.6 L883.3,379.4 L880.7,378.5 L877.8,378.1 L877.2,376.8 L879.1,376.1 L877.6,376.1Z" fill="#c7f3d0"/>
<path d="M886.8,376.5 L890.6,377.9 L893.8,380.2 L893.4,381.6 L896.3,384.7 L893.2,384.5 L890.8,381.8 L889.3,383.2 L886.8,383.4Z" fill="#d2fbd4"/>
<path d="M857.8,397 L858.6,401.5 L859.9,409.1 L859.4,410 L862.6,410.7 L868.5,409.5 L871.1,407.7 L876.6,407 L879.8,408.6 L881.5,410.6 L883.5,408.5 L883.2,410.6 L885.8,413.2 L889.6,414.7 L892.4,414.9 L896.3,413.2 L897.3,410.2 L899.6,406.5 L900.1,403.3 L899.7,400.7 L897.3,397.7 L895.8,397.4 L892.5,393.8 L891.5,389.6 L889.6,388.5 L888.4,385 L887.4,388.2 L887.4,391.2 L886.4,392.3 L885.1,392.1 L881.6,390.1 L880.9,389.3 L882.5,386.7 L878,386 L877.1,386.7 L875.2,387.5 L874.6,389.5 L872.8,388.6 L870.7,388.8 L869.3,391 L867,392.2 L866.4,393.8 L863.4,395.2 L861.2,395.5Z" fill="#d1fbd4"/>
<path d="M890.8,416.7 L894.6,416.9 L894.2,419.4 L892.1,419.8Z" fill="#d1fbd4"/>
<path d="M920.2,410.2 L922,411 L923.7,413.3 L926.4,413.5 L924.8,415.2 L923.8,417.3 L922.3,417.3 L922.9,416.3 L921.5,415.1 L922.3,413.9 L920.6,410.9Z" fill="#d2fbd4"/>
<path d="M920.2,416.5 L921.9,417.3 L921,419.1 L918.7,420.7 L918.1,422.2 L916.7,422.9 L913.8,422.3 L915.8,420.2 L918.5,418.5 L919.7,416.9Z" fill="#d2fbd4"/>
<path d="M749.6,290.9 L754.9,289.3 L761.2,289 L766.5,289.8 L759.1,291.9 L753.8,292.5Z" fill="#cdf8d2"/>
<path d="M548,469 L548,463.5 L566,457.6 L585,454.2 L630,450.8 L656,452.2 L664,448.5 L676,441.4 L670,450 L659,458.4 L679,460.7 L701,458.4 L721,451.3 L772,447.1 L795,444.2 L811,450.5 L818,447.1 L846,443.6 L886,444.8 L917,449.9 L910,457 L928,463.5 L928.5,469Z" fill="#e5ecf6" stroke="none"/>
<path d="M640.9,324.3 L648.5,324.6 L648.3,323.4 L644.1,322.9Z" fill="#ffffff" stroke="none"/>
<path d="M645.3,329.4 L646,329.7 L646.9,327.8 L647.8,325.4 L646.2,325.2 L645.1,326.8Z" fill="#ffffff" stroke="none"/>
<path d="M649.3,325.3 L653.2,325.9 L651.8,327.7 L650.9,328 L649.9,327.3Z" fill="#ffffff" stroke="none"/>
<path d="M650.1,329.8 L654.6,328.7 L654.4,328.5 L652.5,328.7 L650.4,329.3Z" fill="#ffffff" stroke="none"/>
<path d="M654.1,328 L657.6,327.8 L657.3,327.2 L654.6,327.5Z" fill="#ffffff" stroke="none"/>
<path d="M619.8,304.6 L613.4,303.2 L608.2,304.6 L611.3,305.3Z" fill="#ffffff" stroke="none"/>
<path d="M614.5,309.4 L621.9,307.7 L618.7,307.5 L615.6,308Z" fill="#ffffff" stroke="none"/>
<path d="M633.5,320.4 L636.1,320.4 L635.1,317 L633,317.6Z" fill="#ffffff" stroke="none"/>
</g>
<defs><linearGradient id="cbg" x1="0" y1="1" x2="0" y2="0"><stop offset="0" stop-color="#d2fbd4"/><stop offset="0.2" stop-color="#a5dbc2"/><stop offset="0.3" stop-color="#7bbcb0"/><stop offset="0.5" stop-color="#559c9e"/><stop offset="0.7" stop-color="#3a7c89"/><stop offset="0.8" stop-color="#235d72"/><stop offset="1" stop-color="#123f5a"/></linearGradient></defs>
<rect x="944" y="239" width="22.6" height="285" fill="url(#cbg)"/>
<text x="944.5" y="233.5" font-size="9" fill="#2a3f5f">#confirmed</text>
<text x="968.5" y="527.7" font-size="9" fill="#2a3f5f">0</text>
<text x="968.5" y="477.4" font-size="9" fill="#2a3f5f">2M</text>
<text x="968.5" y="427.1" font-size="9" fill="#2a3f5f">4M</text>
<text x="968.5" y="376.8" font-size="9" fill="#2a3f5f">6M</text>
<text x="968.5" y="326.5" font-size="9" fill="#2a3f5f">8M</text>
<text x="968.5" y="276.2" font-size="9" fill="#2a3f5f">10M</text>
<text x="750.7" y="195.6" font-size="12.75" fill="#2a3f5f" text-anchor="middle">Total Confirmed Cases by Country</text>
<text x="636.3" y="496.6" font-size="9" fill="#2a3f5f">Source:</text>
<text x="724.9" y="496.6" font-size="9" fill="#3a62c0" letter-spacing="0.08">CSSE at Johns Hopkins University</text>
<line x1="248" y1="989.4" x2="1162.7" y2="989.4" stroke="#ebf0f8" stroke-width="1"/>
<path d="M248.9,683.2h4.2V989.6h-4.2ZM255,749.4h4.2V989.6h-4.2ZM261,830.8h4.2V989.6h-4.2ZM267.1,933.7h4.2V989.6h-4.2ZM273.1,937.5h4.2V989.6h-4.2ZM279.2,949.7h4.2V989.6h-4.2ZM285.2,952.4h4.2V989.6h-4.2ZM291.3,954.6h4.2V989.6h-4.2ZM297.4,957.2h4.2V989.6h-4.2ZM303.4,957.9h4.2V989.6h-4.2ZM309.5,963h4.2V989.6h-4.2ZM315.5,965.2h4.2V989.6h-4.2ZM321.6,967.7h4.2V989.6h-4.2ZM327.6,970.2h4.2V989.6h-4.2ZM333.7,970.2h4.2V989.6h-4.2ZM339.8,975h4.2V989.6h-4.2ZM345.8,976h4.2V989.6h-4.2ZM351.9,976h4.2V989.6h-4.2ZM357.9,976.4h4.2V989.6h-4.2ZM364,977.9h4.2V989.6h-4.2ZM370,978.8h4.2V989.6h-4.2ZM376.1,979.4h4.2V989.6h-4.2ZM382.2,980.5h4.2V989.6h-4.2ZM388.2,981h4.2V989.6h-4.2ZM394.3,981.1h4.2V989.6h-4.2ZM400.3,982h4.2V989.6h-4.2ZM406.4,982.3h4.2V989.6h-4.2ZM412.4,982.4h4.2V989.6h-4.2ZM418.5,983.1h4.2V989.6h-4.2ZM424.6,984.3h4.2V989.6h-4.2ZM430.6,984.9h4.2V989.6h-4.2ZM436.7,985.2h4.2V989.6h-4.2ZM442.7,985.6h4.2V989.6h-4.2ZM448.8,986.1h4.2V989.6h-4.2ZM454.8,986.5h4.2V989.6h-4.2ZM460.9,986.6h4.2V989.6h-4.2ZM467,986.8h4.2V989.6h-4.2ZM473,986.9h4.2V989.6h-4.2ZM479.1,987.1h4.2V989.6h-4.2ZM485.1,987.2h4.2V989.6h-4.2ZM491.2,987.4h4.2V989.6h-4.2ZM497.2,987.4h4.2V989.6h-4.2ZM503.3,987.5h4.2V989.6h-4.2ZM509.4,987.5h4.2V989.6h-4.2ZM515.4,987.6h4.2V989.6h-4.2ZM521.5,987.6h4.2V989.6h-4.2ZM527.5,987.7h4.2V989.6h-4.2ZM533.6,987.7h4.2V989.6h-4.2ZM539.6,987.8h4.2V989.6h-4.2ZM545.7,987.8h4.2V989.6h-4.2ZM551.8,987.9h4.2V989.6h-4.2ZM557.8,987.9h4.2V989.6h-4.2ZM563.9,988h4.2V989.6h-4.2ZM569.9,988h4.2V989.6h-4.2ZM576,988.1h4.2V989.6h-4.2ZM582,988.1h4.2V989.6h-4.2ZM588.1,988.1h4.2V989.6h-4.2ZM594.1,988.2h4.2V989.6h-4.2ZM600.2,988.2h4.2V989.6h-4.2ZM606.3,988.3h4.2V989.6h-4.2ZM612.3,988.3h4.2V989.6h-4.2ZM618.4,988.3h4.2V989.6h-4.2ZM624.4,988.4h4.2V989.6h-4.2ZM630.5,988.4h4.2V989.6h-4.2ZM636.5,988.4h4.2V989.6h-4.2ZM642.6,988.5h4.2V989.6h-4.2ZM648.7,988.5h4.2V989.6h-4.2ZM654.7,988.5h4.2V989.6h-4.2ZM660.8,988.5h4.2V989.6h-4.2ZM666.8,988.6h4.2V989.6h-4.2ZM672.9,988.6h4.2V989.6h-4.2ZM678.9,988.6h4.2V989.6h-4.2ZM685,988.7h4.2V989.6h-4.2ZM691.1,988.7h4.2V989.6h-4.2ZM697.1,988.7h4.2V989.6h-4.2ZM703.2,988.7h4.2V989.6h-4.2ZM709.2,988.8h4.2V989.6h-4.2ZM715.3,988.8h4.2V989.6h-4.2ZM721.3,988.8h4.2V989.6h-4.2ZM727.4,988.8h4.2V989.6h-4.2ZM733.5,988.8h4.2V989.6h-4.2ZM739.5,988.9h4.2V989.6h-4.2ZM745.6,988.9h4.2V989.6h-4.2ZM751.6,988.9h4.2V989.6h-4.2ZM757.7,988.9h4.2V989.6h-4.2ZM763.7,988.9h4.2V989.6h-4.2ZM769.8,989h4.2V989.6h-4.2ZM775.9,989h4.2V989.6h-4.2ZM781.9,989h4.2V989.6h-4.2ZM788,989h4.2V989.6h-4.2ZM794,989h4.2V989.6h-4.2ZM800.1,989h4.2V989.6h-4.2ZM806.1,989h4.2V989.6h-4.2ZM812.2,989.1h4.2V989.6h-4.2ZM818.3,989.1h4.2V989.6h-4.2ZM824.3,989.1h4.2V989.6h-4.2ZM830.4,989.1h4.2V989.6h-4.2ZM836.4,989.1h4.2V989.6h-4.2ZM842.5,989.1h4.2V989.6h-4.2ZM848.5,989.1h4.2V989.6h-4.2ZM854.6,989.2h4.2V989.6h-4.2ZM860.7,989.2h4.2V989.6h-4.2ZM866.7,989.2h4.2V989.6h-4.2ZM872.8,989.2h4.2V989.6h-4.2ZM878.8,989.2h4.2V989.6h-4.2ZM884.9,989.2h4.2V989.6h-4.2ZM890.9,989.2h4.2V989.6h-4.2ZM897,989.2h4.2V989.6h-4.2ZM903.1,989.2h4.2V989.6h-4.2ZM909.1,989.3h4.2V989.6h-4.2ZM915.2,989.3h4.2V989.6h-4.2ZM921.2,989.3h4.2V989.6h-4.2ZM927.3,989.3h4.2V989.6h-4.2ZM933.3,989.3h4.2V989.6h-4.2ZM939.4,989.3h4.2V989.6h-4.2ZM945.5,989.3h4.2V989.6h-4.2ZM951.5,989.3h4.2V989.6h-4.2ZM957.6,989.3h4.2V989.6h-4.2ZM963.6,989.3h4.2V989.6h-4.2ZM969.7,989.3h4.2V989.6h-4.2ZM975.7,989.3h4.2V989.6h-4.2ZM981.8,989.3h4.2V989.6h-4.2ZM987.9,989.4h4.2V989.6h-4.2ZM993.9,989.4h4.2V989.6h-4.2ZM1000,989.4h4.2V989.6h-4.2ZM1006,989.4h4.2V989.6h-4.2ZM1012.1,989.4h4.2V989.6h-4.2ZM1018.1,989.4h4.2V989.6h-4.2ZM1024.2,989.4h4.2V989.6h-4.2ZM1030.3,989.4h4.2V989.6h-4.2ZM1036.3,989.4h4.2V989.6h-4.2ZM1042.4,989.4h4.2V989.6h-4.2ZM1048.4,989.4h4.2V989.6h-4.2ZM1054.5,989.4h4.2V989.6h-4.2ZM1060.5,989.4h4.2V989.6h-4.2ZM1066.6,989.4h4.2V989.6h-4.2ZM1072.7,989.4h4.2V989.6h-4.2ZM1078.7,989.4h4.2V989.6h-4.2ZM1084.8,989.4h4.2V989.6h-4.2ZM1090.8,989.4h4.2V989.6h-4.2ZM1096.9,989.5h4.2V989.6h-4.2ZM1102.9,989.5h4.2V989.6h-4.2ZM1109,989.5h4.2V989.6h-4.2ZM1115.1,989.5h4.2V989.6h-4.2ZM1121.1,989.5h4.2V989.6h-4.2ZM1127.2,989.5h4.2V989.6h-4.2ZM1133.2,989.5h4.2V989.6h-4.2ZM1139.3,989.5h4.2V989.6h-4.2ZM1145.3,989.5h4.2V989.6h-4.2ZM1151.4,989.5h4.2V989.6h-4.2ZM1157.5,989.5h4.2V989.6h-4.2Z" fill="#34a836" stroke="#34a836" stroke-opacity="0.18" stroke-width="1.2"/>
<polyline points="251,843.5 257.1,948.6 263.1,867.4 269.2,856.9 275.2,922.5 281.3,853.2 287.3,893.5 293.4,862.2 299.5,896.5 305.5,882.6 311.6,943.4 317.6,863.6 323.7,935.2 329.7,924.8 335.8,899.4 341.9,925.2 347.9,796.5 354,865.1 360,921.1 366.1,967.3 372.1,963.6 378.2,954.6 384.3,902.4 390.3,967.3 396.4,934.5 402.4,836.4 408.5,942.2 414.5,942.2 420.6,853.5 426.7,889.4 432.7,883 438.8,945.4 444.8,903.2 450.9,933.7 456.9,915.1 463,915.1 469.1,840.5 475.1,848.3 481.2,790.3 487.2,873 493.3,948.6 499.3,970.3 505.4,882.3 511.5,822.9 517.5,927 523.6,947.9 529.6,969.5 535.7,914.3 541.7,916.6 547.8,933 553.9,970.3 559.9,924 566,973.3 572,912.9 578.1,893.5 584.1,887.1 590.2,770.4 596.2,947.6 602.3,943.7 608.4,946.4 614.4,890.5 620.5,933 626.5,968.8 632.6,966.1 638.6,968 644.7,921.1 650.8,933.7 656.8,972.5 662.9,931.5 668.9,935.2 675,871.1 681,967.3 687.1,967.7 693.2,969.5 699.2,924.8 705.3,952.4 711.3,952.7 717.4,935.2 723.4,805 729.5,969.5 735.6,803.2 741.6,970.3 747.7,960.3 753.7,971.5 759.8,970.3 765.8,972.5 771.9,970.3 778,971.8 784,972.1 790.1,953.6 796.1,969.5 802.2,884.5 808.2,968.8 814.3,953.1 820.4,961.3 826.4,970.3 832.5,958.6 838.5,958 844.6,971 850.6,910.6 856.7,951.6 862.8,967 868.8,971.5 874.9,950.6 880.9,958 887,972.1 893,683.2 899.1,970.3 905.2,952.4 911.2,971.8 917.3,939.7 923.3,918.5 929.4,958.8 935.4,925.5 941.5,949.4 947.6,973 953.6,969.5 959.7,973 965.7,973.7 971.8,973 977.8,972.5 983.9,973.6 990,969.1 996,972.5 1002.1,973.7 1008.1,970.3 1014.2,972.5 1020.2,973.6 1026.3,973 1032.4,830.8 1038.4,973.3 1044.5,874.8 1050.5,956.9 1056.6,973.7 1062.6,973.6 1068.7,971 1074.8,920.3 1080.8,973.1 1086.9,972.5 1092.9,973.6 1099,972.2 1105,974.2 1111.1,970.6 1117.2,970.1 1123.2,967.8 1129.3,968.7 1135.3,971.1 1141.4,970.3 1147.4,973.1 1153.5,972.5 1159.6,974" fill="none" stroke="#b9393d" stroke-opacity="0.74" stroke-width="1.5" stroke-linejoin="round"/>
<text x="247.4" y="992.5" font-size="9" fill="#2a3f5f" text-anchor="end">0</text>
<text x="247.4" y="938.5" font-size="9" fill="#2a3f5f" text-anchor="end">2M</text>
<text x="247.4" y="884.5" font-size="9" fill="#2a3f5f" text-anchor="end">4M</text>
<text x="247.4" y="830.5" font-size="9" fill="#2a3f5f" text-anchor="end">6M</text>
<text x="247.4" y="776.5" font-size="9" fill="#2a3f5f" text-anchor="end">8M</text>
<text x="247.4" y="722.5" font-size="9" fill="#2a3f5f" text-anchor="end">10M</text>
<text transform="translate(1160.6,976.1) rotate(45)" font-size="9" fill="#2a3f5f">0</text>
<text transform="translate(1160.6,938.5) rotate(45)" font-size="9" fill="#2a3f5f">10k</text>
<text transform="translate(1160.6,900.9) rotate(45)" font-size="9" fill="#2a3f5f">20k</text>
<text transform="translate(1160.6,863.3) rotate(45)" font-size="9" fill="#2a3f5f">30k</text>
<text transform="translate(1160.6,825.7) rotate(45)" font-size="9" fill="#2a3f5f">40k</text>
<text transform="translate(1160.6,788.1) rotate(45)" font-size="9" fill="#2a3f5f">50k</text>
<text transform="translate(1160.6,750.5) rotate(45)" font-size="9" fill="#2a3f5f">60k</text>
<text transform="translate(1160.6,712.9) rotate(45)" font-size="9" fill="#2a3f5f">70k</text>
<text transform="translate(1160.6,675.3) rotate(45)" font-size="9" fill="#2a3f5f">80k</text>
<text transform="translate(248.5,998.3) rotate(45)" font-size="9" fill="#2a3f5f">United States</text>
<text transform="translate(260.6,998.3) rotate(45)" font-size="9" fill="#2a3f5f">Brazil</text>
<text transform="translate(272.7,998.3) rotate(45)" font-size="9" fill="#2a3f5f">Russia</text>
<text transform="translate(284.8,998.3) rotate(45)" font-size="9" fill="#2a3f5f">United Kingdom</text>
<text transform="translate(297,998.3) rotate(45)" font-size="9" fill="#2a3f5f">Italy</text>
<text transform="translate(309.1,998.3) rotate(45)" font-size="9" fill="#2a3f5f">Mexico</text>
<text transform="translate(321.2,998.3) rotate(45)" font-size="9" fill="#2a3f5f">Germany</text>
<text transform="translate(333.3,998.3) rotate(45)" font-size="9" fill="#2a3f5f">Poland</text>
<text transform="translate(345.4,998.3) rotate(45)" font-size="9" fill="#2a3f5f">Belgium</text>
<text transform="translate(357.5,998.3) rotate(45)" font-size="9" fill="#2a3f5f">Iraq</text>
<text transform="translate(369.6,998.3) rotate(45)" font-size="9" fill="#2a3f5f">Bangladesh</text>
<text transform="translate(381.8,998.3) rotate(45)" font-size="9" fill="#2a3f5f">Romania</text>
<text transform="translate(393.9,998.3) rotate(45)" font-size="9" fill="#2a3f5f">Saudi Arabia</text>
<text transform="translate(406,998.3) rotate(45)" font-size="9" fill="#2a3f5f">Canada</text>
<text transform="translate(418.1,998.3) rotate(45)" font-size="9" fill="#2a3f5f">Switzerland</text>
<text transform="translate(430.2,998.3) rotate(45)" font-size="9" fill="#2a3f5f">Austria</text>
<text transform="translate(442.3,998.3) rotate(45)" font-size="9" fill="#2a3f5f">Sweden</text>
<text transform="translate(454.4,998.3) rotate(45)" font-size="9" fill="#2a3f5f">Jordan</text>
<text transform="translate(466.6,998.3) rotate(45)" font-size="9" fill="#2a3f5f">Panama</text>
<text transform="translate(478.7,998.3) rotate(45)" font-size="9" fill="#2a3f5f">Qatar</text>
<text transform="translate(490.8,998.3) rotate(45)" font-size="9" fill="#2a3f5f">Kazakhstan</text>
<text transform="translate(502.9,998.3) rotate(45)" font-size="9" fill="#2a3f5f">Oman</text>
<text transform="translate(515,998.3) rotate(45)" font-size="9" fill="#2a3f5f">Belarus</text>
<text transform="translate(527.1,998.3) rotate(45)" font-size="9" fill="#2a3f5f">Egypt</text>
<text transform="translate(539.2,998.3) rotate(45)" font-size="9" fill="#2a3f5f">Bulgaria</text>
<text transform="translate(551.4,998.3) rotate(45)" font-size="9" fill="#2a3f5f">Ethiopia</text>
<text transform="translate(563.5,998.3) rotate(45)" font-size="9" fill="#2a3f5f">China</text>
<text transform="translate(575.6,998.3) rotate(45)" font-size="9" fill="#2a3f5f">Croatia</text>
<text transform="translate(587.7,998.3) rotate(45)" font-size="9" fill="#2a3f5f">Bahrain</text>
<text transform="translate(599.8,998.3) rotate(45)" font-size="9" fill="#2a3f5f">Azerbaijan</text>
<text transform="translate(611.9,998.3) rotate(45)" font-size="9" fill="#2a3f5f">Bosnia and Herzegovina</text>
<text transform="translate(624,998.3) rotate(45)" font-size="9" fill="#2a3f5f">Kenya</text>
<text transform="translate(636.1,998.3) rotate(45)" font-size="9" fill="#2a3f5f">Algeria</text>
<text transform="translate(648.3,998.3) rotate(45)" font-size="9" fill="#2a3f5f">Kyrgyzstan</text>
<text transform="translate(660.4,998.3) rotate(45)" font-size="9" fill="#2a3f5f">Denmark</text>
<text transform="translate(672.5,998.3) rotate(45)" font-size="9" fill="#2a3f5f">Slovenia</text>
<text transform="translate(684.6,998.3) rotate(45)" font-size="9" fill="#2a3f5f">Malaysia</text>
<text transform="translate(696.7,998.3) rotate(45)" font-size="9" fill="#2a3f5f">Lithuania</text>
<text transform="translate(708.8,998.3) rotate(45)" font-size="9" fill="#2a3f5f">Norway</text>
<text transform="translate(720.9,998.3) rotate(45)" font-size="9" fill="#2a3f5f">Montenegro</text>
<text transform="translate(733.1,998.3) rotate(45)" font-size="9" fill="#2a3f5f">Luxembourg</text>
<text transform="translate(745.2,998.3) rotate(45)" font-size="9" fill="#2a3f5f">Finland</text>
<text transform="translate(757.3,998.3) rotate(45)" font-size="9" fill="#2a3f5f">Zambia</text>
<text transform="translate(769.4,998.3) rotate(45)" font-size="9" fill="#2a3f5f">Senegal</text>
<text transform="translate(781.5,998.3) rotate(45)" font-size="9" fill="#2a3f5f">Angola</text>
<text transform="translate(793.6,998.3) rotate(45)" font-size="9" fill="#2a3f5f">Guinea</text>
<text transform="translate(805.7,998.3) rotate(45)" font-size="9" fill="#2a3f5f">Tajikistan</text>
<text transform="translate(817.9,998.3) rotate(45)" font-size="9" fill="#2a3f5f">Jamaica</text>
<text transform="translate(830,998.3) rotate(45)" font-size="9" fill="#2a3f5f">Botswana</text>
<text transform="translate(842.1,998.3) rotate(45)" font-size="9" fill="#2a3f5f">Zimbabwe</text>
<text transform="translate(854.2,998.3) rotate(45)" font-size="9" fill="#2a3f5f">Estonia</text>
<text transform="translate(866.3,998.3) rotate(45)" font-size="9" fill="#2a3f5f">Cuba</text>
<text transform="translate(878.4,998.3) rotate(45)" font-size="9" fill="#2a3f5f">Trinidad and Tobago</text>
<text transform="translate(890.5,998.3) rotate(45)" font-size="9" fill="#2a3f5f">Andorra</text>
<text transform="translate(902.7,998.3) rotate(45)" font-size="9" fill="#2a3f5f">Djibouti</text>
<text transform="translate(914.8,998.3) rotate(45)" font-size="9" fill="#2a3f5f">Suriname</text>
<text transform="translate(926.9,998.3) rotate(45)" font-size="9" fill="#2a3f5f">Equatorial Guinea</text>
<text transform="translate(939,998.3) rotate(45)" font-size="9" fill="#2a3f5f">Guyana</text>
<text transform="translate(951.1,998.3) rotate(45)" font-size="9" fill="#2a3f5f">Uruguay</text>
<text transform="translate(963.2,998.3) rotate(45)" font-size="9" fill="#2a3f5f">Thailand</text>
<text transform="translate(975.3,998.3) rotate(45)" font-size="9" fill="#2a3f5f">Togo</text>
<text transform="translate(987.5,998.3) rotate(45)" font-size="9" fill="#2a3f5f">Guinea-Bissau</text>
<text transform="translate(999.6,998.3) rotate(45)" font-size="9" fill="#2a3f5f">Yemen</text>
<text transform="translate(1011.7,998.3) rotate(45)" font-size="9" fill="#2a3f5f">New Zealand</text>
<text transform="translate(1023.8,998.3) rotate(45)" font-size="9" fill="#2a3f5f">Liberia</text>
<text transform="translate(1035.9,998.3) rotate(45)" font-size="9" fill="#2a3f5f">Vietnam</text>
<text transform="translate(1048,998.3) rotate(45)" font-size="9" fill="#2a3f5f">Sao Tome and Principe</text>
<text transform="translate(1060.1,998.3) rotate(45)" font-size="9" fill="#2a3f5f">Papua New Guinea</text>
<text transform="translate(1072.3,998.3) rotate(45)" font-size="9" fill="#2a3f5f">Monaco</text>
<text transform="translate(1084.4,998.3) rotate(45)" font-size="9" fill="#2a3f5f">Mauritius</text>
<text transform="translate(1096.5,998.3) rotate(45)" font-size="9" fill="#2a3f5f">Bhutan</text>
<text transform="translate(1108.6,998.3) rotate(45)" font-size="9" fill="#2a3f5f">Barbados</text>
<text transform="translate(1120.7,998.3) rotate(45)" font-size="9" fill="#2a3f5f">Seychelles</text>
<text transform="translate(1132.8,998.3) rotate(45)" font-size="9" fill="#2a3f5f">Saint Vincent and the Grenadines</text>
<text transform="translate(1144.9,998.3) rotate(45)" font-size="9" fill="#2a3f5f">Grenada</text>
<text transform="translate(1157.1,998.3) rotate(45)" font-size="9" fill="#2a3f5f">Vanuatu</text>
<text transform="translate(210.5,828) rotate(-90)" font-size="10.5" fill="#2a3f5f" text-anchor="middle"># of confirmed cases</text>
<text transform="translate(1199,828) rotate(-90)" font-size="10.5" fill="#2a3f5f" text-anchor="middle">cases/millions</text>
<text x="694.2" y="608.3" font-size="14.85" fill="#2a3f5f" text-anchor="middle">Global aggregate cases</text>
<text x="694.2" y="624" font-size="8.7" fill="#6b7280" text-anchor="middle" font-family='"Liberation Sans", sans-serif'>(click and drag)</text>
<rect x="940.8" y="645.4" width="9.2" height="8.6" fill="#34a836"/>
<text x="960.7" y="652.8" font-size="9" fill="#2a3f5f"># of confirmed cases</text>
<line x1="1063.8" y1="649.7" x2="1086" y2="649.7" stroke="#b9393d" stroke-opacity="0.74" stroke-width="1.5"/>
<text x="1090.5" y="652.8" font-size="9" fill="#2a3f5f">cases/million</text>
<rect x="248.1" y="1217" width="912.9" height="145" fill="#e5ecf6"/>
<path d="M260.3,1217V1362M272.4,1217V1362M284.6,1217V1362M296.8,1217V1362M309,1217V1362M321.1,1217V1362M333.3,1217V1362M345.5,1217V1362M357.6,1217V1362M369.8,1217V1362M382,1217V1362M394.2,1217V1362M406.3,1217V1362M418.5,1217V1362M430.7,1217V1362M442.9,1217V1362M455,1217V1362M467.2,1217V1362M479.4,1217V1362M491.5,1217V1362M503.7,1217V1362M515.9,1217V1362M528.1,1217V1362M540.2,1217V1362M552.4,1217V1362M564.6,1217V1362M576.7,1217V1362M588.9,1217V1362M601.1,1217V1362M613.3,1217V1362M625.4,1217V1362M637.6,1217V1362M649.8,1217V1362M661.9,1217V1362M674.1,1217V1362M686.3,1217V1362M698.5,1217V1362M710.6,1217V1362M722.8,1217V1362M735,1217V1362M747.2,1217V1362M759.3,1217V1362M771.5,1217V1362M783.7,1217V1362M795.8,1217V1362M808,1217V1362M820.2,1217V1362M832.4,1217V1362M844.5,1217V1362M856.7,1217V1362M868.9,1217V1362M881,1217V1362M893.2,1217V1362M905.4,1217V1362M917.6,1217V1362M929.7,1217V1362M941.9,1217V1362M954.1,1217V1362M966.2,1217V1362M978.4,1217V1362M990.6,1217V1362M1002.8,1217V1362M1014.9,1217V1362M1027.1,1217V1362M1039.3,1217V1362M1051.5,1217V1362M1063.6,1217V1362M1075.8,1217V1362M1088,1217V1362M1100.1,1217V1362M1112.3,1217V1362M1124.5,1217V1362M1136.7,1217V1362M1148.8,1217V1362M1161,1217V1362M248.1,1233.7H1161M248.1,1274.1H1161M248.1,1314.3H1161" stroke="#ffffff" stroke-width="1" fill="none"/>
<line x1="248.1" y1="1354.4" x2="1161" y2="1354.4" stroke="#ffffff" stroke-width="2"/>
<g clip-path="url(#dclip)">
<polyline points="248.1,1354.5 267,1354.3 287,1354.1 311,1354.4 315,1351.3 319.7,1353.9 340.4,1354 393.7,1353.7 397.7,1352.7 403.1,1351.7 407.1,1352.4 413.7,1351.1 419.1,1350.4 421.7,1348.8 430,1347.3 433.7,1345.5 437,1346 443,1341.5 448.3,1340.7 452.3,1342.4 457.7,1338.8 461.7,1338.8 466.3,1337.4 469,1337.7 473.7,1340.1 478.4,1339 482.4,1337.7 486.4,1336.6 489,1336.6 491.7,1339 494.4,1335 497.7,1340.4 500.4,1339.7 506.4,1334.8 509,1336.6 512.4,1340.1 515.7,1338.4 519.7,1339.7 524.4,1339 527.7,1336.6 533,1337.4 537,1340.1 539.7,1340.4 545,1338.8 551.1,1336.6 555.1,1338.4 559.7,1339 563.7,1338.4 567.1,1336.4 572.4,1336.4 575.7,1337 579.7,1339.3 583.1,1339 586.4,1337.4 589.1,1337.4 591.7,1334.8 597.7,1335.4 601.1,1338.8 603,1337 608.3,1334 613.7,1332.6 618.3,1333 625,1336.6 629.7,1334.4 634.3,1330.4 637.7,1329.7 640.3,1326.8 643.7,1333 646.4,1335 649.7,1330 653,1330.8 656.4,1328.6 661.7,1327.3 667,1333 672.4,1327.7 676.4,1326.4 680.4,1328.6 683.7,1327.3 686.4,1328.1 689,1330 692.4,1325.7 698,1325.7 701.4,1318.4 707.3,1328.6 710.4,1326.4 713.7,1321.4 717.7,1319.7 722.4,1316 728.4,1321.4 731.7,1323 735.1,1318.4 737.7,1310.8 741.7,1313.7 747.1,1317 752.4,1321 756.1,1312.1 759.1,1311.7 764.4,1307.7 771.1,1315.7 774.4,1316.1 777.7,1310 780.4,1308.4 783.7,1303.7 789,1306.8 793,1311.7 795.7,1313 799,1307 801.7,1298 807,1298.4 810.3,1303 813.7,1311.7 817.7,1307.7 822.3,1296.1 825.7,1298 829,1296.1 832.4,1303.7 837.7,1312.6 841,1303 847.7,1297.4 850.4,1298.4 853.7,1303 857,1309.7 859.7,1309 863,1301.4 868.4,1297 871.7,1294 875,1308.4 878.4,1312.1 881,1312.4 883.7,1304.1 887,1299.3 890.4,1300.4 895.7,1301 899,1313 901.7,1313.7 905,1306.4 908.4,1296.1 911.1,1298 914.4,1298.4 920.4,1308.4 923.7,1301.7 926.4,1301.4 929.7,1298 932.4,1298 935.7,1292.1 941.7,1310 947.7,1306 951.1,1298 956.8,1290.8 959,1295 962.7,1306.4 965.7,1298.8 969,1297.4 972.3,1293 978.3,1289.4 984.3,1305.7 987,1294.8 993,1300.1 996.3,1282.4 999,1287 1005,1305.4 1008.4,1299 1011.7,1297 1014.4,1288.4 1017.7,1290.8 1020.4,1295.3 1023.7,1290.8 1026.8,1304.1 1029.7,1288.1 1032.4,1288.6 1035.7,1283.7 1039,1281.7 1041.7,1282.4 1045,1289 1048.1,1299.7 1051,1289 1054,1288.1 1057.7,1277.4 1060.4,1272.6 1063,1272.1 1069.4,1296.6 1072.4,1265 1075.7,1276.4 1079,1265 1080,1262.7 1084.8,1255 1090.7,1283.2 1093.8,1246.9 1097,1259.3 1102.9,1243.6 1105.9,1240.3 1108.6,1258.4 1111.9,1267 1114.8,1252.7 1118.1,1251 1121,1234.5 1124,1235.2 1126.9,1226.2 1130.1,1251.4 1133.4,1241.2 1136.4,1253.6 1139.6,1240.7 1142.4,1224.5 1148.5,1224.1 1151.5,1235 1154.6,1259.6 1157.7,1247.4 1160.6,1232.2" fill="none" stroke="#636efa" stroke-width="1.6" stroke-linejoin="round"/>
<polyline points="248.1,1354.5 327,1354.5 367,1354.4 407.1,1354.4 420.4,1354 430,1353.7 433.7,1354.4 437,1352.4 445,1352.7 453,1351.7 459.7,1351.3 469,1350.8 473.7,1351.7 482.4,1348.4 487.7,1349.7 491.7,1349.1 494.4,1350.4 497.7,1348.7 501,1349.1 503.7,1347.1 507.7,1348.4 512.4,1349.5 515.7,1347.7 518.4,1350 521.7,1347.5 527.7,1348.1 530.8,1344.1 533.7,1349.1 539.7,1349.1 545,1347.1 549,1341.5 552.4,1346.8 555.1,1346.4 558.4,1348.1 563.7,1347.3 567.7,1345.1 573.1,1347.1 576.4,1343.7 579.7,1347.7 583.1,1344.7 585.7,1346.4 588.4,1343.1 591.7,1346.4 597.7,1343.3 601.1,1346.4 603,1344.1 608.3,1343.7 613,1344.7 615.9,1333 619,1343.7 625,1341.7 628.3,1343.7 633.7,1341.1 637.7,1339 640.3,1340.1 643.7,1339.3 646.4,1343.3 649.7,1333.4 653,1338.4 656.4,1340.4 661.7,1340.1 664.6,1343.3 668,1324.4 671,1338.4 675,1338.4 678.4,1337 683,1337.7 686.4,1340.4 689.7,1337.4 695,1330.8 698.4,1338.4 704.4,1331.7 707.3,1340.1 711,1335.7 716.4,1331 719.7,1336.4 723,1332.6 725.7,1333 729.1,1336.6 732.4,1334.8 735.1,1331.3 738,1331 740.8,1297.4 743.7,1332.1 747.1,1315.3 749.7,1330.8 753.1,1329.4 759.1,1322.4 762.4,1327.3 765.1,1326.8 771.1,1332.1 774.4,1326.4 777.1,1325.4 780.4,1321.7 783,1324.1 786.3,1318 789.7,1323.7 792.7,1336.4 795.7,1323 799.7,1319.3 802.3,1319 805,1320.4 807.7,1308.6 811,1310.4 814.1,1325.7 817,1321 819.7,1320.4 826.4,1310 829.7,1315.3 832.4,1317.4 835,1326.8 838.4,1310 843,1310 847.7,1316.6 853.7,1314 859.7,1321.4 862.6,1293.7 865.7,1310.4 868.8,1321 871.7,1297.7 875,1320.4 877.7,1308.1 880.4,1312.4 883.7,1309 889,1312.4 893,1320.4 895.7,1312.1 898.4,1311.3 901.7,1314.4 905,1307.7 908.4,1309.4 912.4,1314.4 914.4,1314.4 918.4,1312.1 923.7,1314.4 926.4,1303.3 929.7,1310.4 933.1,1310.4 938.4,1314.4 941.7,1312.4 945.1,1314.8 947.7,1314.4 951.1,1306.8 953.7,1311.3 957.7,1309.7 959,1309 963,1317 965.7,1308.6 969,1309 972.3,1308.4 975,1310.4 978.3,1303.7 981.7,1306.4 984.3,1307 987.7,1305.7 990.3,1310 993,1301.7 996.3,1303.7 999.7,1306.4 1002.4,1305.7 1005.4,1312.4 1008.4,1309.4 1011.7,1306.8 1015,1304.6 1017.7,1310 1020.8,1319.7 1024.1,1303 1027,1310.4 1029.7,1306.8 1033,1307.3 1036,1303.3 1039,1310 1041.7,1312.4 1045.3,1316.1 1048.1,1310.8 1051,1313.4 1054.4,1315.7 1057.4,1311.7 1061.7,1313 1065.7,1314.4 1069.7,1314.4 1072.4,1312.4 1076.4,1311.7 1078.4,1312.1 1079.8,1311 1081.4,1308.9 1084.8,1313.2 1087.6,1312.2 1090.7,1315.6 1093.8,1305.6 1097,1236 1099.5,1300.8 1102.7,1305.1 1105.7,1303.2 1109.1,1305.4 1112.4,1302.2 1115.1,1298.4 1118.1,1304.1 1124,1293.4 1127.2,1296.5 1130.1,1293.9 1133.4,1303.7 1139.6,1303.2 1142.4,1278.4 1145.6,1309.4 1148.6,1293.9 1151.7,1298.9 1154.8,1308.4 1157.7,1277 1160.6,1267.4" fill="none" stroke="#ef553b" stroke-width="1.6" stroke-linejoin="round"/>
<polyline points="248.1,1354.4 330,1354.3 420,1354 520,1353.6 620,1353.8 700,1353.9 800,1353.7 900,1353.6 1000,1353.8 1100,1353.5 1161,1353" fill="none" stroke="#00cc96" stroke-width="2" stroke-linejoin="round"/>
</g>
<clipPath id="dclip"><rect x="248.1" y="1217" width="912.9" height="145"/></clipPath>
<text x="247.5" y="1357.6" font-size="9" fill="#2a3f5f" text-anchor="end">0</text>
<text x="247.5" y="1317.4" font-size="9" fill="#2a3f5f" text-anchor="end">200k</text>
<text x="247.5" y="1277.2" font-size="9" fill="#2a3f5f" text-anchor="end">400k</text>
<text x="247.5" y="1237" font-size="9" fill="#2a3f5f" text-anchor="end">600k</text>
<text transform="translate(243.3,1367.6) rotate(90)" font-size="9" fill="#2a3f5f">1/22/20</text>
<text transform="translate(255.5,1367.6) rotate(90)" font-size="9" fill="#2a3f5f">1/26/20</text>
<text transform="translate(267.6,1367.6) rotate(90)" font-size="9" fill="#2a3f5f">1/30/20</text>
<text transform="translate(279.8,1367.6) rotate(90)" font-size="9" fill="#2a3f5f">2/3/20</text>
<text transform="translate(292,1367.6) rotate(90)" font-size="9" fill="#2a3f5f">2/7/20</text>
<text transform="translate(304.2,1367.6) rotate(90)" font-size="9" fill="#2a3f5f">2/11/20</text>
<text transform="translate(316.3,1367.6) rotate(90)" font-size="9" fill="#2a3f5f">2/15/20</text>
<text transform="translate(328.5,1367.6) rotate(90)" font-size="9" fill="#2a3f5f">2/19/20</text>
<text transform="translate(340.7,1367.6) rotate(90)" font-size="9" fill="#2a3f5f">2/23/20</text>
<text transform="translate(352.8,1367.6) rotate(90)" font-size="9" fill="#2a3f5f">2/27/20</text>
<text transform="translate(365,1367.6) rotate(90)" font-size="9" fill="#2a3f5f">3/2/20</text>
<text transform="translate(377.2,1367.6) rotate(90)" font-size="9" fill="#2a3f5f">3/6/20</text>
<text transform="translate(389.4,1367.6) rotate(90)" font-size="9" fill="#2a3f5f">3/10/20</text>
<text transform="translate(401.5,1367.6) rotate(90)" font-size="9" fill="#2a3f5f">3/14/20</text>
<text transform="translate(413.7,1367.6) rotate(90)" font-size="9" fill="#2a3f5f">3/18/20</text>
<text transform="translate(425.9,1367.6) rotate(90)" font-size="9" fill="#2a3f5f">3/22/20</text>
<text transform="translate(438.1,1367.6) rotate(90)" font-size="9" fill="#2a3f5f">3/26/20</text>
<text transform="translate(450.2,1367.6) rotate(90)" font-size="9" fill="#2a3f5f">3/30/20</text>
<text transform="translate(462.4,1367.6) rotate(90)" font-size="9" fill="#2a3f5f">4/3/20</text>
<text transform="translate(474.6,1367.6) rotate(90)" font-size="9" fill="#2a3f5f">4/7/20</text>
<text transform="translate(486.7,1367.6) rotate(90)" font-size="9" fill="#2a3f5f">4/11/20</text>
<text transform="translate(498.9,1367.6) rotate(90)" font-size="9" fill="#2a3f5f">4/15/20</text>
<text transform="translate(511.1,1367.6) rotate(90)" font-size="9" fill="#2a3f5f">4/19/20</text>
<text transform="translate(523.3,1367.6) rotate(90)" font-size="9" fill="#2a3f5f">4/23/20</text>
<text transform="translate(535.4,1367.6) rotate(90)" font-size="9" fill="#2a3f5f">4/27/20</text>
<text transform="translate(547.6,1367.6) rotate(90)" font-size="9" fill="#2a3f5f">5/1/20</text>
<text transform="translate(559.8,1367.6) rotate(90)" font-size="9" fill="#2a3f5f">5/5/20</text>
<text transform="translate(571.9,1367.6) rotate(90)" font-size="9" fill="#2a3f5f">5/9/20</text>
<text transform="translate(584.1,1367.6) rotate(90)" font-size="9" fill="#2a3f5f">5/13/20</text>
<text transform="translate(596.3,1367.6) rotate(90)" font-size="9" fill="#2a3f5f">5/17/20</text>
<text transform="translate(608.5,1367.6) rotate(90)" font-size="9" fill="#2a3f5f">5/21/20</text>
<text transform="translate(620.6,1367.6) rotate(90)" font-size="9" fill="#2a3f5f">5/25/20</text>
<text transform="translate(632.8,1367.6) rotate(90)" font-size="9" fill="#2a3f5f">5/29/20</text>
<text transform="translate(645,1367.6) rotate(90)" font-size="9" fill="#2a3f5f">6/2/20</text>
<text transform="translate(657.1,1367.6) rotate(90)" font-size="9" fill="#2a3f5f">6/6/20</text>
<text transform="translate(669.3,1367.6) rotate(90)" font-size="9" fill="#2a3f5f">6/10/20</text>
<text transform="translate(681.5,1367.6) rotate(90)" font-size="9" fill="#2a3f5f">6/14/20</text>
<text transform="translate(693.7,1367.6) rotate(90)" font-size="9" fill="#2a3f5f">6/18/20</text>
<text transform="translate(705.8,1367.6) rotate(90)" font-size="9" fill="#2a3f5f">6/22/20</text>
<text transform="translate(718,1367.6) rotate(90)" font-size="9" fill="#2a3f5f">6/26/20</text>
<text transform="translate(730.2,1367.6) rotate(90)" font-size="9" fill="#2a3f5f">6/30/20</text>
<text transform="translate(742.4,1367.6) rotate(90)" font-size="9" fill="#2a3f5f">7/4/20</text>
<text transform="translate(754.5,1367.6) rotate(90)" font-size="9" fill="#2a3f5f">7/8/20</text>
<text transform="translate(766.7,1367.6) rotate(90)" font-size="9" fill="#2a3f5f">7/12/20</text>
<text transform="translate(778.9,1367.6) rotate(90)" font-size="9" fill="#2a3f5f">7/16/20</text>
<text transform="translate(791,1367.6) rotate(90)" font-size="9" fill="#2a3f5f">7/20/20</text>
<text transform="translate(803.2,1367.6) rotate(90)" font-size="9" fill="#2a3f5f">7/24/20</text>
<text transform="translate(815.4,1367.6) rotate(90)" font-size="9" fill="#2a3f5f">7/28/20</text>
<text transform="translate(827.6,1367.6) rotate(90)" font-size="9" fill="#2a3f5f">8/1/20</text>
<text transform="translate(839.7,1367.6) rotate(90)" font-size="9" fill="#2a3f5f">8/5/20</text>
<text transform="translate(851.9,1367.6) rotate(90)" font-size="9" fill="#2a3f5f">8/9/20</text>
<text transform="translate(864.1,1367.6) rotate(90)" font-size="9" fill="#2a3f5f">8/13/20</text>
<text transform="translate(876.2,1367.6) rotate(90)" font-size="9" fill="#2a3f5f">8/17/20</text>
<text transform="translate(888.4,1367.6) rotate(90)" font-size="9" fill="#2a3f5f">8/21/20</text>
<text transform="translate(900.6,1367.6) rotate(90)" font-size="9" fill="#2a3f5f">8/25/20</text>
<text transform="translate(912.8,1367.6) rotate(90)" font-size="9" fill="#2a3f5f">8/29/20</text>
<text transform="translate(924.9,1367.6) rotate(90)" font-size="9" fill="#2a3f5f">9/2/20</text>
<text transform="translate(937.1,1367.6) rotate(90)" font-size="9" fill="#2a3f5f">9/6/20</text>
<text transform="translate(949.3,1367.6) rotate(90)" font-size="9" fill="#2a3f5f">9/10/20</text>
<text transform="translate(961.4,1367.6) rotate(90)" font-size="9" fill="#2a3f5f">9/14/20</text>
<text transform="translate(973.6,1367.6) rotate(90)" font-size="9" fill="#2a3f5f">9/18/20</text>
<text transform="translate(985.8,1367.6) rotate(90)" font-size="9" fill="#2a3f5f">9/22/20</text>
<text transform="translate(998,1367.6) rotate(90)" font-size="9" fill="#2a3f5f">9/26/20</text>
<text transform="translate(1010.1,1367.6) rotate(90)" font-size="9" fill="#2a3f5f">9/30/20</text>
<text transform="translate(1022.3,1367.6) rotate(90)" font-size="9" fill="#2a3f5f">10/4/20</text>
<text transform="translate(1034.5,1367.6) rotate(90)" font-size="9" fill="#2a3f5f">10/8/20</text>
<text transform="translate(1046.7,1367.6) rotate(90)" font-size="9" fill="#2a3f5f">10/12/20</text>
<text transform="translate(1058.8,1367.6) rotate(90)" font-size="9" fill="#2a3f5f">10/16/20</text>
<text transform="translate(1071,1367.6) rotate(90)" font-size="9" fill="#2a3f5f">10/20/20</text>
<text transform="translate(1083.2,1367.6) rotate(90)" font-size="9" fill="#2a3f5f">10/24/20</text>
<text transform="translate(1095.3,1367.6) rotate(90)" font-size="9" fill="#2a3f5f">10/28/20</text>
<text transform="translate(1107.5,1367.6) rotate(90)" font-size="9" fill="#2a3f5f">11/1/20</text>
<text transform="translate(1119.7,1367.6) rotate(90)" font-size="9" fill="#2a3f5f">11/5/20</text>
<text transform="translate(1131.9,1367.6) rotate(90)" font-size="9" fill="#2a3f5f">11/9/20</text>
<text transform="translate(1144,1367.6) rotate(90)" font-size="9" fill="#2a3f5f">11/13/20</text>
<text transform="translate(1156.2,1367.6) rotate(90)" font-size="9" fill="#2a3f5f">11/17/20</text>
<rect x="248.1" y="1420.7" width="912.9" height="35.3" fill="#e5ecf6"/>
<polyline points="248.1,1455 267,1455 287,1454.9 311,1455 315,1454.2 319.7,1454.9 340.4,1454.9 393.7,1454.8 397.7,1454.6 403.1,1454.3 407.1,1454.5 413.7,1454.2 419.1,1454 421.7,1453.6 430,1453.2 433.7,1452.7 437,1452.8 443,1451.7 448.3,1451.5 452.3,1451.9 457.7,1451 461.7,1451 466.3,1450.6 469,1450.7 473.7,1451.3 478.4,1451 482.4,1450.7 486.4,1450.4 489,1450.4 491.7,1451 494.4,1450 497.7,1451.4 500.4,1451.2 506.4,1450 509,1450.4 512.4,1451.3 515.7,1450.9 519.7,1451.2 524.4,1451 527.7,1450.4 533,1450.6 537,1451.3 539.7,1451.4 545,1451 551.1,1450.4 555.1,1450.9 559.7,1451 563.7,1450.9 567.1,1450.4 572.4,1450.4 575.7,1450.5 579.7,1451.1 583.1,1451 586.4,1450.6 589.1,1450.6 591.7,1450 597.7,1450.1 601.1,1451 603,1450.5 608.3,1449.8 613.7,1449.4 618.3,1449.5 625,1450.4 629.7,1449.9 634.3,1448.8 637.7,1448.7 640.3,1447.9 643.7,1449.5 646.4,1450 649.7,1448.7 653,1448.9 656.4,1448.4 661.7,1448 667,1449.5 672.4,1448.1 676.4,1447.8 680.4,1448.4 683.7,1448 686.4,1448.2 689,1448.7 692.4,1447.6 698,1447.6 701.4,1445.8 707.3,1448.4 710.4,1447.8 713.7,1446.5 717.7,1446.1 722.4,1445.1 728.4,1446.5 731.7,1446.9 735.1,1445.8 737.7,1443.8 741.7,1444.5 747.1,1445.4 752.4,1446.4 756.1,1444.1 759.1,1444 764.4,1443 771.1,1445.1 774.4,1445.2 777.7,1443.6 780.4,1443.2 783.7,1442 789,1442.8 793,1444 795.7,1444.4 799,1442.8 801.7,1440.5 807,1440.6 810.3,1441.8 813.7,1444 817.7,1443 822.3,1440 825.7,1440.5 829,1440 832.4,1442 837.7,1444.3 841,1441.8 847.7,1440.4 850.4,1440.6 853.7,1441.8 857,1443.5 859.7,1443.3 863,1441.4 868.4,1440.3 871.7,1439.5 875,1443.2 878.4,1444.1 881,1444.2 883.7,1442.1 887,1440.8 890.4,1441.1 895.7,1441.3 899,1444.4 901.7,1444.5 905,1442.7 908.4,1440 911.1,1440.5 914.4,1440.6 920.4,1443.2 923.7,1441.5 926.4,1441.4 929.7,1440.5 932.4,1440.5 935.7,1439 941.7,1443.6 947.7,1442.6 951.1,1440.5 956.8,1438.7 959,1439.7 962.7,1442.7 965.7,1440.7 969,1440.4 972.3,1439.2 978.3,1438.3 984.3,1442.5 987,1439.7 993,1441.1 996.3,1436.5 999,1437.7 1005,1442.4 1008.4,1440.8 1011.7,1440.3 1014.4,1438 1017.7,1438.7 1020.4,1439.8 1023.7,1438.7 1026.8,1442.1 1029.7,1438 1032.4,1438.1 1035.7,1436.8 1039,1436.3 1041.7,1436.5 1045,1438.2 1048.1,1440.9 1051,1438.2 1054,1438 1057.7,1435.2 1060.4,1434 1063,1433.9 1069.4,1440.2 1072.4,1432 1075.7,1435 1079,1432 1080,1431.4 1084.8,1429.5 1090.7,1436.7 1093.8,1427.4 1097,1430.6 1102.9,1426.5 1105.9,1425.7 1108.6,1430.3 1111.9,1432.5 1114.8,1428.9 1118.1,1428.4 1121,1424.2 1124,1424.4 1126.9,1422.1 1130.1,1428.5 1133.4,1425.9 1136.4,1429.1 1139.6,1425.8 1142.4,1421.6 1148.5,1421.5 1151.5,1424.3 1154.6,1430.6 1157.7,1427.5 1160.6,1423.6" fill="none" stroke="#636efa" stroke-width="1.4" stroke-linejoin="round"/>
<polyline points="248.1,1455 327,1455 367,1455 407.1,1455 420.4,1454.9 430,1454.8 433.7,1455 437,1454.5 445,1454.6 453,1454.3 459.7,1454.2 469,1454.1 473.7,1454.3 482.4,1453.5 487.7,1453.8 491.7,1453.6 494.4,1454 497.7,1453.5 501,1453.6 503.7,1453.1 507.7,1453.5 512.4,1453.7 515.7,1453.3 518.4,1453.9 521.7,1453.2 527.7,1453.4 530.8,1452.4 533.7,1453.6 539.7,1453.6 545,1453.1 549,1451.7 552.4,1453 555.1,1452.9 558.4,1453.4 563.7,1453.2 567.7,1452.6 573.1,1453.1 576.4,1452.3 579.7,1453.3 583.1,1452.5 585.7,1452.9 588.4,1452.1 591.7,1452.9 597.7,1452.1 601.1,1452.9 603,1452.4 608.3,1452.3 613,1452.5 615.9,1449.5 619,1452.3 625,1451.7 628.3,1452.3 633.7,1451.6 637.7,1451 640.3,1451.3 643.7,1451.1 646.4,1452.1 649.7,1449.6 653,1450.9 656.4,1451.4 661.7,1451.3 664.6,1452.1 668,1447.3 671,1450.9 675,1450.9 678.4,1450.5 683,1450.7 686.4,1451.4 689.7,1450.6 695,1448.9 698.4,1450.9 704.4,1449.2 707.3,1451.3 711,1450.2 716.4,1449 719.7,1450.4 723,1449.4 725.7,1449.5 729.1,1450.4 732.4,1450 735.1,1449.1 738,1449 740.8,1440.4 743.7,1449.3 747.1,1445 749.7,1448.9 753.1,1448.6 759.1,1446.8 762.4,1448 765.1,1447.9 771.1,1449.3 774.4,1447.8 777.1,1447.5 780.4,1446.6 783,1447.2 786.3,1445.6 789.7,1447.1 792.7,1450.4 795.7,1446.9 799.7,1446 802.3,1445.9 805,1446.3 807.7,1443.2 811,1443.7 814.1,1447.6 817,1446.4 819.7,1446.3 826.4,1443.6 829.7,1445 832.4,1445.5 835,1447.9 838.4,1443.6 843,1443.6 847.7,1445.3 853.7,1444.6 859.7,1446.5 862.6,1439.4 865.7,1443.7 868.8,1446.4 871.7,1440.4 875,1446.3 877.7,1443.1 880.4,1444.2 883.7,1443.3 889,1444.2 893,1446.3 895.7,1444.1 898.4,1443.9 901.7,1444.7 905,1443 908.4,1443.4 912.4,1444.7 914.4,1444.7 918.4,1444.1 923.7,1444.7 926.4,1441.9 929.7,1443.7 933.1,1443.7 938.4,1444.7 941.7,1444.2 945.1,1444.8 947.7,1444.7 951.1,1442.8 953.7,1443.9 957.7,1443.5 959,1443.3 963,1445.4 965.7,1443.2 969,1443.3 972.3,1443.2 975,1443.7 978.3,1442 981.7,1442.7 984.3,1442.8 987.7,1442.5 990.3,1443.6 993,1441.5 996.3,1442 999.7,1442.7 1002.4,1442.5 1005.4,1444.2 1008.4,1443.4 1011.7,1442.8 1015,1442.2 1017.7,1443.6 1020.8,1446.1 1024.1,1441.8 1027,1443.7 1029.7,1442.8 1033,1442.9 1036,1441.9 1039,1443.6 1041.7,1444.2 1045.3,1445.2 1048.1,1443.8 1051,1444.5 1054.4,1445.1 1057.4,1444 1061.7,1444.4 1065.7,1444.7 1069.7,1444.7 1072.4,1444.2 1076.4,1444 1078.4,1444.1 1079.8,1443.9 1081.4,1443.3 1084.8,1444.4 1087.6,1444.2 1090.7,1445 1093.8,1442.5 1097,1424.6 1099.5,1441.2 1102.7,1442.3 1105.7,1441.8 1109.1,1442.4 1112.4,1441.6 1115.1,1440.6 1118.1,1442.1 1124,1439.3 1127.2,1440.1 1130.1,1439.5 1133.4,1442 1139.6,1441.8 1142.4,1435.5 1145.6,1443.4 1148.6,1439.5 1151.7,1440.7 1154.8,1443.2 1157.7,1435.1 1160.6,1432.6" fill="none" stroke="#ef553b" stroke-width="1.4" stroke-linejoin="round"/>
<polyline points="248.1,1455 330,1455 420,1454.9 520,1454.8 620,1454.8 700,1454.9 800,1454.8 900,1454.8 1000,1454.8 1100,1454.8 1161,1454.6" fill="none" stroke="#00cc96" stroke-width="1.8" stroke-linejoin="round"/>
<rect x="246.4" y="1430.8" width="3.2" height="17.2" rx="1" fill="#fff" stroke="#6e6e6e" stroke-width="0.9"/>
<rect x="1159.4" y="1430.8" width="3.2" height="17.2" rx="1" fill="#fff" stroke="#6e6e6e" stroke-width="0.9"/>
<text x="704.8" y="1480.1" font-size="10" fill="#2a3f5f" text-anchor="middle">date</text>
<text transform="translate(206,1289.5) rotate(-90)" font-size="10" fill="#2a3f5f" text-anchor="middle">value</text>
<text x="244.7" y="1180.3" font-size="12.7" fill="#2a3f5f">Global daily new cases</text>
<text x="1180.8" y="1228.9" font-size="9" fill="#2a3f5f">variable</text>
<line x1="1183" y1="1239.6" x2="1205" y2="1239.6" stroke="#636efa" stroke-width="2"/>
<text x="1209.4" y="1242.8" font-size="9" fill="#2a3f5f">daily new cases</text>
<line x1="1183" y1="1254" x2="1205" y2="1254" stroke="#ef553b" stroke-width="2"/>
<text x="1209.4" y="1257.2" font-size="9" fill="#2a3f5f">daily new recovered</text>
<line x1="1183" y1="1268.5" x2="1205" y2="1268.5" stroke="#00cc96" stroke-width="2"/>
<text x="1209.4" y="1271.7" font-size="9" fill="#2a3f5f">daily new deaths</text>
</svg>
<div id="sb" class="abs">
<div class="nh" style="top:6px"><svg width="176" height="30"><rect x="15" y="8" width="4.1" height="3.5" fill="#fff"/><rect x="19.8" y="8" width="4.1" height="3.5" fill="#fff"/><rect x="24.5" y="8" width="4.1" height="3.5" fill="#fff"/><rect x="15" y="12.2" width="4.1" height="3.5" fill="#fff"/><rect x="19.8" y="12.2" width="4.1" height="3.5" fill="#fff"/><rect x="24.5" y="12.2" width="4.1" height="3.5" fill="#fff"/><rect x="15" y="16.3" width="4.1" height="3.5" fill="#fff"/><rect x="19.8" y="16.3" width="4.1" height="3.5" fill="#fff"/><rect x="24.5" y="16.3" width="4.1" height="3.5" fill="#fff"/><polyline points="156.8,12.1 160.5,15.8 164.2,12.1" fill="none" stroke="#fff" stroke-width="2.2"/></svg><div class="t">Global plot</div></div>
<div class="si" style="top:46.6px">Plotly</div>
<div class="si" style="top:79.2px">Altair</div>
<div class="si" style="top:111.2px;letter-spacing:-0.35px">Chart.Js</div>
<div class="nh" style="top:136px"><svg width="176" height="30"><rect x="15" y="8" width="4.1" height="3.5" fill="#fff"/><rect x="19.8" y="8" width="4.1" height="3.5" fill="#fff"/><rect x="24.5" y="8" width="4.1" height="3.5" fill="#fff"/><rect x="15" y="12.2" width="4.1" height="3.5" fill="#fff"/><rect x="19.8" y="12.2" width="4.1" height="3.5" fill="#fff"/><rect x="24.5" y="12.2" width="4.1" height="3.5" fill="#fff"/><rect x="15" y="16.3" width="4.1" height="3.5" fill="#fff"/><rect x="19.8" y="16.3" width="4.1" height="3.5" fill="#fff"/><rect x="24.5" y="16.3" width="4.1" height="3.5" fill="#fff"/><polyline points="156.8,12.1 160.5,15.8 164.2,12.1" fill="none" stroke="#fff" stroke-width="2.2"/></svg><div class="t">Per country plot</div></div>
<div class="si" style="top:176.3px;font-size:11.3px">Country Name</div>
<div class="abs" style="left:6.6px;top:200.7px;width:148.6px;height:15.6px;background:#fff;border:1px solid #767676;border-radius:1px"><div class="abs" style="left:3px;top:0.4px;font-size:11.2px;color:#000;line-height:13px;letter-spacing:-0.1px">Select a country ...</div><svg class="abs" style="left:133px;top:3px" width="12" height="9"><polyline points="1.2,2.3 5,6 8.8,2.3" fill="none" stroke="#000" stroke-width="1.6"/></svg></div>
<div class="abs" style="left:6.1px;top:218.2px;width:56.9px;height:28.4px;background:#007bff;border-radius:3px;color:#fff;font-size:11.7px;line-height:28.4px;text-align:center">Submit</div>
</div>
</body></html>
